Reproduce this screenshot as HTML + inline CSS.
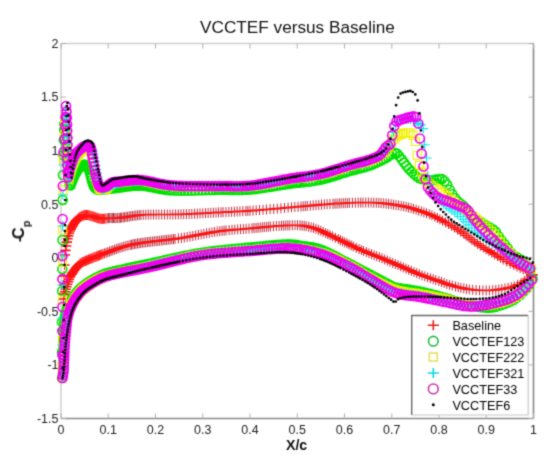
<!DOCTYPE html>
<html><head><meta charset="utf-8"><style>
html,body{margin:0;padding:0;background:#fff;}
body{width:550px;height:466px;overflow:hidden;position:relative;font-family:"Liberation Sans",Arial,sans-serif;}
svg{position:absolute;left:0;top:0;}
svg text{font-family:"Liberation Sans",Arial,sans-serif;}
</style></head><body>
<svg width="550" height="466" viewBox="0 0 550 466">
<defs><filter id="bl" color-interpolation-filters="sRGB" x="0" y="0" width="550" height="466" filterUnits="userSpaceOnUse"><feConvolveMatrix order="3" kernelMatrix="0.0277 0.1110 0.0277 0.1110 0.4452 0.1110 0.0277 0.1110 0.0277" divisor="1" edgeMode="duplicate" preserveAlpha="false"/></filter></defs>
<rect x="0" y="0" width="550" height="466" fill="#fff"/>
<g filter="url(#bl)">
<text x="297.5" y="32.6" font-size="17.2" text-anchor="middle" fill="#111">VCCTEF versus Baseline</text>
<path d="M61.0 43.5H533.5" stroke="#cfcfcf" stroke-width="1.5"/>
<path d="M61.0 43.5V418.5" stroke="#cfcfcf" stroke-width="1.5"/>
<path d="M61.0 418.5H533.5" stroke="#8a8a8a" stroke-width="1.6"/>
<path d="M533.5 43.5V418.5" stroke="#8a8a8a" stroke-width="1.6"/>
<path d="M61.0 418.5v-5M61.0 43.5v5M108.2 418.5v-5M108.2 43.5v5M155.5 418.5v-5M155.5 43.5v5M202.8 418.5v-5M202.8 43.5v5M250.0 418.5v-5M250.0 43.5v5M297.2 418.5v-5M297.2 43.5v5M344.5 418.5v-5M344.5 43.5v5M391.8 418.5v-5M391.8 43.5v5M439.0 418.5v-5M439.0 43.5v5M486.2 418.5v-5M486.2 43.5v5M533.5 418.5v-5M533.5 43.5v5M61.0 43.5h5M533.5 43.5h-5M61.0 97.1h5M533.5 97.1h-5M61.0 150.6h5M533.5 150.6h-5M61.0 204.2h5M533.5 204.2h-5M61.0 257.8h5M533.5 257.8h-5M61.0 311.4h5M533.5 311.4h-5M61.0 364.9h5M533.5 364.9h-5M61.0 418.5h5M533.5 418.5h-5" stroke="#b0b0b0" stroke-width="1"/>
<g font-size="12.5" fill="#222"><text x="61.0" y="434" text-anchor="middle">0</text><text x="108.2" y="434" text-anchor="middle">0.1</text><text x="155.5" y="434" text-anchor="middle">0.2</text><text x="202.8" y="434" text-anchor="middle">0.3</text><text x="250.0" y="434" text-anchor="middle">0.4</text><text x="297.2" y="434" text-anchor="middle">0.5</text><text x="344.5" y="434" text-anchor="middle">0.6</text><text x="391.8" y="434" text-anchor="middle">0.7</text><text x="439.0" y="434" text-anchor="middle">0.8</text><text x="486.2" y="434" text-anchor="middle">0.9</text><text x="533.5" y="434" text-anchor="middle">1</text><text x="58.5" y="47.8" text-anchor="end">2</text><text x="58.5" y="101.4" text-anchor="end">1.5</text><text x="58.5" y="154.9" text-anchor="end">1</text><text x="58.5" y="208.5" text-anchor="end">0.5</text><text x="58.5" y="262.1" text-anchor="end">0</text><text x="58.5" y="315.7" text-anchor="end">-0.5</text><text x="58.5" y="369.2" text-anchor="end">-1</text><text x="58.5" y="422.8" text-anchor="end">-1.5</text></g>
<text x="296.6" y="449.6" font-size="14.2" font-weight="bold" text-anchor="middle" fill="#111">X/c</text>
<g transform="translate(23 239.6) rotate(-90)" font-weight="bold" fill="#111"><text x="-2.4" y="1" font-size="15">-</text><text x="0.5" y="1.1" font-size="16.2">C</text><text x="12.5" y="7.2" font-size="10.5">p</text></g>
<g>
<path d="M62.3 325v10M63.6 294v10M63.6 289v10M63.8 280v10M64 271v10M64.6 260v10M65 250v10M65.6 245.4v10M66.3 241v10M67 237.1v10M67.7 233.8v10M68.4 230.9v10M69.2 228.2v10M70 226v10M70.8 224.1v10M71.7 222.5v10M72.5 221v10M73.3 219.6v10M74.2 218.1v10M75.1 216.9v10M75.9 215.9v10M76.7 214.9v10M77.7 214v10M78.5 213.2v10M79.4 212.5v10M80.3 211.9v10M81.2 211.4v10M82 211v10M82.9 210.7v10M83.7 210.4v10M84.6 210.2v10M85.6 210v10M86.5 210v10M87.4 210v10M88.2 210.2v10M89.1 210.4v10M90 210.6v10M90.9 210.9v10M91.9 211.2v10M92.8 211.4v10M93.7 211.7v10M94.7 212v10M95.7 212.4v10M96.7 212.8v10M97.7 213.1v10M98.7 213.4v10M99.7 213.7v10M100.8 213.8v10M101.7 213.9v10M102.6 213.8v10M103.6 213.8v10M104.6 213.7v10M105.9 213.5v10M63.5 294v10M64.2 289.8v10M65.1 286.8v10M65.8 284.3v10M66.6 281.8v10M67.4 279.3v10M68.3 276.6v10M69.1 274.2v10M70 272v10M70.8 270.5v10M71.7 269.1v10M72.5 267.9v10M73.4 266.6v10M74.3 265.3v10M75.3 264v10M76.2 262.9v10M77 261.8v10M78 260.7v10M78.9 259.8v10M79.9 258.9v10M80.8 258.2v10M81.8 257.6v10M82.7 257.1v10M83.7 256.7v10M84.8 256.2v10M85.6 255.9v10M86.4 255.5v10M87.3 255.1v10M88.5 254.6v10M89.3 254.2v10M90.3 253.9v10M91.2 253.5v10M92.2 253.1v10M93.1 252.7v10M94.2 252.3v10M95.2 251.9v10M96.3 251.5v10M97.3 251.1v10M98.4 250.7v10M99.5 250.3v10M100.7 249.8v10M101.8 249.4v10M103 249v10M104.6 248.4v10" fill="none" stroke="#ff1818" stroke-width="1"/>
<path d="M107.2 213.3v10M108.4 213.1v10M109.7 213v10M111.1 213v10M112.3 213v10M113.5 213v10M114.8 213.1v10M116.1 213.1v10M117.7 213v10M119.2 212.9v10M120.4 212.8v10M121.7 212.6v10M123.1 212.4v10M124.6 212.2v10M126 212v10M127.6 211.7v10M129.2 211.5v10M130.8 211.2v10M132.4 211v10M134.1 210.7v10M135.8 210.5v10M137.5 210.3v10M139.3 210.1v10M141 210v10M143.3 209.8v10M145.8 209.7v10M148.3 209.6v10M150.9 209.6v10M153.5 209.5v10M156.2 209.5v10M158.9 209.5v10M161.7 209.5v10M164.5 209.5v10M167.3 209.5v10M170 209.5v10M172.8 209.5v10M175.6 209.4v10M178.3 209.4v10M181 209.3v10M183.7 209.2v10M186.4 209.1v10M189.1 209v10M191.8 208.9v10M194.6 208.7v10M197.3 208.6v10M200 208.4v10M202.8 208.3v10M205.5 208.1v10M208.1 208v10M210.8 207.8v10M213.4 207.7v10M216 207.6v10M218.5 207.4v10M221 207.3v10M223.1 207.2v10M226 207.1v10M228.9 206.9v10M231.6 206.8v10M234.4 206.7v10M237.1 206.5v10M239.9 206.4v10M242.8 206.2v10M245.8 206.1v10M247.8 205.9v10M250 205.8v10M253 205.6v10M256.2 205.3v10M259.5 205.1v10M263 204.8v10M266.5 204.5v10M270.1 204.2v10M273.7 203.9v10M277.3 203.6v10M280.9 203.3v10M284.5 202.9v10M288.1 202.6v10M291.5 202.3v10M294.8 202v10M298 201.8v10M301 201.5v10M303.2 201.3v10M305.3 201.1v10M307.3 200.9v10M310.3 200.7v10M313.2 200.4v10M316 200.1v10M318.8 199.9v10M321.5 199.6v10M324.3 199.4v10M327.1 199.2v10M330 199v10M333 198.8v10M335 198.7v10M337.1 198.6v10M339.2 198.4v10M341.2 198.3v10M343.3 198.2v10M345.3 198.1v10M347.4 198v10M349.4 197.9v10M352.4 197.8v10M355.3 197.7v10M358.2 197.6v10M360.7 197.6v10M362.9 197.6v10M365.7 197.6v10M368.4 197.6v10M371.1 197.6v10M373.7 197.7v10M376.3 197.8v10M378.8 197.9v10M381.1 198.1v10M383.7 198.3v10M386.2 198.6v10M388.6 198.9v10M391.1 199.2v10M393.5 199.6v10M396 200v10M398.6 200.4v10M401.2 200.9v10M403.7 201.4v10M406.2 201.9v10M408.6 202.5v10M411.1 203.1v10M413.5 203.8v10M416.1 204.7v10M418.7 205.6v10M421.3 206.4v10M423.9 207.3v10M426.5 208.2v10M429.3 209.2v10M431.9 210.3v10M434.8 211.7v10M437.4 213v10M439.9 214.3v10M442.5 215.6v10M445.5 217.3v10M448.5 219v10M451.5 220.7v10M454.5 222.5v10M457.5 224.4v10M460.6 226.4v10M463.4 228.4v10M466.2 230.5v10M469 232.6v10M471.8 234.8v10M474.7 236.9v10M477.6 238.9v10M480.4 240.7v10M483.2 242.5v10M486 244.2v10M488.9 245.9v10M491.7 247.6v10M494.6 249.3v10M497.5 251.1v10M500.4 252.8v10M503.3 254.5v10M506.8 256.5v10M510.3 258.4v10M513.9 260.2v10M517 261.6v10M520.2 263v10M523.3 264.4v10M526.5 265.9v10M529.7 267.6v10M532.8 269.9v10M106.1 247.8v10M107.8 247.2v10M109.4 246.6v10M111.1 246v10M112.8 245.3v10M114.6 244.7v10M116.4 244.1v10M118.2 243.4v10M120 242.8v10M122 242.2v10M123.9 241.6v10M125.9 241v10M127.9 240.5v10M130 240v10M131.4 239.7v10M132.9 239.4v10M134.4 239.1v10M135.9 238.8v10M137.5 238.5v10M139.1 238.3v10M140.7 238v10M142.3 237.8v10M144 237.6v10M145.7 237.3v10M147.4 237.1v10M149.1 236.9v10M150.8 236.7v10M152.6 236.5v10M154.3 236.3v10M156.1 236.1v10M157.8 235.9v10M159.6 235.7v10M161.4 235.5v10M163.1 235.3v10M164.9 235.1v10M166.6 234.9v10M168.3 234.7v10M170.1 234.5v10M171.8 234.3v10M173.5 234.1v10M175.1 233.9v10M178.4 233.4v10M181.4 233v10M184.3 232.5v10M187.2 232v10M190 231.5v10M192.8 231v10M195.6 230.4v10M198.4 229.9v10M201.2 229.4v10M203.9 228.9v10M206.7 228.3v10M209.3 227.9v10M212 227.4v10M214.6 226.9v10M217.2 226.5v10M219.7 226.2v10M222 225.9v10M224.1 225.6v10M226.1 225.4v10M229.1 225.1v10M232 224.9v10M234.8 224.6v10M237.7 224.4v10M240.5 224.2v10M243.3 224v10M246.1 223.8v10M249 223.6v10M252 223.3v10M254 223.1v10M256.1 222.9v10M258.1 222.7v10M260.2 222.5v10M262.3 222.3v10M264.3 222.1v10M266.4 221.9v10M268.4 221.7v10M270.4 221.5v10M273.4 221.3v10M276.3 221v10M279.1 220.9v10M281.5 220.7v10M283.6 220.6v10M285.7 220.5v10M287.8 220.4v10M289.8 220.3v10M292.4 220.2v10M295 220.2v10M297.5 220.2v10M300 220.4v10M302.1 220.6v10M304.2 220.9v10M306.2 221.2v10M308.7 221.8v10M311.1 222.4v10M313.5 223v10M316 223.8v10M318.4 224.8v10M320.8 225.8v10M323.2 226.9v10M325.7 228.1v10M327.8 229.1v10M330 230.2v10M332.6 231.4v10M335.4 232.8v10M338.4 234.2v10M340.5 235.2v10M342.6 236.3v10M344.7 237.3v10M346.9 238.3v10M349 239.4v10M351.1 240.4v10M353.2 241.4v10M356.2 242.8v10M359.1 244.1v10M361.4 245.1v10M363.5 246v10M366.3 247.1v10M368.9 248.2v10M371.5 249.2v10M374.1 250.2v10M376.7 251.2v10M379.3 252.2v10M382 253.3v10M384.7 254.5v10M387.3 255.6v10M390 256.7v10M392.7 257.9v10M395.3 259v10M398 260.1v10M400.7 261.3v10M403.3 262.4v10M406 263.6v10M408.7 264.8v10M411.3 265.9v10M414 267.1v10M416.7 268.2v10M419.3 269.2v10M422 270.3v10M424.8 271.3v10M427.6 272.3v10M430.4 273.2v10M433.2 274.2v10M435.8 275.1v10M438.9 276.1v10M441.5 277v10M444.1 278v10M446.8 279v10M449.6 279.9v10M452.3 280.6v10M455.5 281.5v10M458.2 282.2v10M460.9 282.8v10M463.8 283.4v10M466.6 284v10M469.3 284.4v10M472.7 284.8v10M476.1 285.1v10M479.5 285.3v10M482.9 285.5v10M486.2 285.5v10M489.4 285.4v10M492.7 285.2v10M495.8 284.9v10M498.8 284.5v10M501.8 284.1v10M505 283.5v10M508.1 282.9v10M511.3 282.2v10M514.3 281.3v10M517.5 279.9v10M521.2 277.8v10M524.4 275.9v10M527.5 274.1v10M530.7 272.1v10" fill="none" stroke="#b83040" stroke-width="1"/>
<path d="M57.3 330h10M58.6 299h10M58.6 294h10M58.8 285h10M59 276h10M59.6 265h10M60 255h10M60.6 250.4h10M61.3 246h10M62 242.1h10M62.7 238.8h10M63.4 235.9h10M64.2 233.2h10M65 231h10M65.8 229.1h10M66.7 227.5h10M67.5 226h10M68.3 224.6h10M69.2 223.1h10M70.1 221.9h10M70.9 220.9h10M71.7 219.9h10M72.7 219h10M73.5 218.2h10M74.4 217.5h10M75.3 216.9h10M76.2 216.4h10M77 216h10M77.9 215.7h10M78.7 215.4h10M79.6 215.2h10M80.6 215h10M81.5 215h10M82.4 215h10M83.2 215.2h10M84.1 215.4h10M85 215.6h10M85.9 215.9h10M86.9 216.2h10M87.8 216.4h10M88.7 216.7h10M89.7 217h10M90.7 217.4h10M91.7 217.8h10M92.7 218.1h10M93.7 218.4h10M94.7 218.7h10M95.8 218.8h10M96.7 218.9h10M97.6 218.8h10M98.6 218.8h10M99.6 218.7h10M100.9 218.5h10M102.2 218.3h10M103.4 218.1h10M104.7 218h10M106.1 218h10M107.3 218h10M108.5 218h10M109.8 218.1h10M111.1 218.1h10M112.7 218h10M114.2 217.9h10M115.4 217.8h10M116.7 217.6h10M118.1 217.4h10M119.6 217.2h10M121 217h10M122.6 216.7h10M124.2 216.5h10M125.8 216.2h10M127.4 216h10M129.1 215.7h10M130.8 215.5h10M132.5 215.3h10M134.3 215.1h10M136 215h10M138.3 214.8h10M140.8 214.7h10M143.3 214.6h10M145.9 214.6h10M148.5 214.5h10M151.2 214.5h10M153.9 214.5h10M156.7 214.5h10M159.5 214.5h10M162.3 214.5h10M165 214.5h10M167.8 214.5h10M170.6 214.4h10M173.3 214.4h10M176 214.3h10M178.7 214.2h10M181.4 214.1h10M184.1 214h10M186.8 213.9h10M189.6 213.7h10M192.3 213.6h10M195 213.4h10M197.8 213.3h10M200.5 213.1h10M203.1 213h10M205.8 212.8h10M208.4 212.7h10M211 212.6h10M213.5 212.4h10M216 212.3h10M218.1 212.2h10M221 212.1h10M223.9 211.9h10M226.6 211.8h10M229.4 211.7h10M232.1 211.5h10M234.9 211.4h10M237.8 211.2h10M240.8 211.1h10M242.8 210.9h10M245 210.8h10M248 210.6h10M251.2 210.3h10M254.5 210.1h10M258 209.8h10M261.5 209.5h10M265.1 209.2h10M268.7 208.9h10M272.3 208.6h10M275.9 208.3h10M279.5 207.9h10M283.1 207.6h10M286.5 207.3h10M289.8 207h10M293 206.8h10M296 206.5h10M298.2 206.3h10M300.3 206.1h10M302.3 205.9h10M305.3 205.7h10M308.2 205.4h10M311 205.1h10M313.8 204.9h10M316.5 204.6h10M319.3 204.4h10M322.1 204.2h10M325 204h10M328 203.8h10M330 203.7h10M332.1 203.6h10M334.2 203.4h10M336.2 203.3h10M338.3 203.2h10M340.3 203.1h10M342.4 203h10M344.4 202.9h10M347.4 202.8h10M350.3 202.7h10M353.2 202.6h10M355.7 202.6h10M357.9 202.6h10M360.7 202.6h10M363.4 202.6h10M366.1 202.6h10M368.7 202.7h10M371.3 202.8h10M373.8 202.9h10M376.1 203.1h10M378.7 203.3h10M381.2 203.6h10M383.6 203.9h10M386.1 204.2h10M388.5 204.6h10M391 205h10M393.6 205.4h10M396.2 205.9h10M398.7 206.4h10M401.2 206.9h10M403.6 207.5h10M406.1 208.1h10M408.5 208.8h10M411.1 209.7h10M413.7 210.6h10M416.3 211.4h10M418.9 212.3h10M421.5 213.2h10M424.3 214.2h10M426.9 215.3h10M429.8 216.7h10M432.4 218h10M434.9 219.3h10M437.5 220.6h10M440.5 222.3h10M443.5 224h10M446.5 225.7h10M449.5 227.5h10M452.5 229.4h10M455.6 231.4h10M458.4 233.4h10M461.2 235.5h10M464 237.6h10M466.8 239.8h10M469.7 241.9h10M472.6 243.9h10M475.4 245.7h10M478.2 247.5h10M481 249.2h10M483.9 250.9h10M486.7 252.6h10M489.6 254.3h10M492.5 256.1h10M495.4 257.8h10M498.3 259.5h10M501.8 261.5h10M505.3 263.4h10M508.9 265.2h10M512 266.6h10M515.2 268h10M518.3 269.4h10M521.5 270.9h10M524.7 272.6h10M527.8 274.9h10M58.5 299h10M59.2 294.8h10M60.1 291.8h10M60.8 289.3h10M61.6 286.8h10M62.4 284.3h10M63.3 281.6h10M64.1 279.2h10M65 277h10M65.8 275.5h10M66.7 274.1h10M67.5 272.9h10M68.4 271.6h10M69.3 270.3h10M70.3 269h10M71.2 267.9h10M72 266.8h10M73 265.7h10M73.9 264.8h10M74.9 263.9h10M75.8 263.2h10M76.8 262.6h10M77.7 262.1h10M78.7 261.7h10M79.8 261.2h10M80.6 260.9h10M81.4 260.5h10M82.3 260.1h10M83.5 259.6h10M84.3 259.2h10M85.3 258.9h10M86.2 258.5h10M87.2 258.1h10M88.1 257.7h10M89.2 257.3h10M90.2 256.9h10M91.3 256.5h10M92.3 256.1h10M93.4 255.7h10M94.5 255.3h10M95.7 254.8h10M96.8 254.4h10M98 254h10M99.6 253.4h10M101.1 252.8h10M102.8 252.2h10M104.4 251.6h10M106.1 251h10M107.8 250.3h10M109.6 249.7h10M111.4 249.1h10M113.2 248.4h10M115 247.8h10M117 247.2h10M118.9 246.6h10M120.9 246h10M122.9 245.5h10M125 245h10M126.4 244.7h10M127.9 244.4h10M129.4 244.1h10M130.9 243.8h10M132.5 243.5h10M134.1 243.3h10M135.7 243h10M137.3 242.8h10M139 242.6h10M140.7 242.3h10M142.4 242.1h10M144.1 241.9h10M145.8 241.7h10M147.6 241.5h10M149.3 241.3h10M151.1 241.1h10M152.8 240.9h10M154.6 240.7h10M156.4 240.5h10M158.1 240.3h10M159.9 240.1h10M161.6 239.9h10M163.3 239.7h10M165.1 239.5h10M166.8 239.3h10M168.5 239.1h10M170.1 238.9h10M173.4 238.4h10M176.4 238h10M179.3 237.5h10M182.2 237h10M185 236.5h10M187.8 236h10M190.6 235.4h10M193.4 234.9h10M196.2 234.4h10M198.9 233.9h10M201.7 233.3h10M204.3 232.9h10M207 232.4h10M209.6 231.9h10M212.2 231.5h10M214.7 231.2h10M217 230.9h10M219.1 230.6h10M221.1 230.4h10M224.1 230.1h10M227 229.9h10M229.8 229.6h10M232.7 229.4h10M235.5 229.2h10M238.3 229h10M241.1 228.8h10M244 228.6h10M247 228.3h10M249 228.1h10M251.1 227.9h10M253.1 227.7h10M255.2 227.5h10M257.3 227.3h10M259.3 227.1h10M261.4 226.9h10M263.4 226.7h10M265.4 226.5h10M268.4 226.3h10M271.3 226h10M274.1 225.9h10M276.5 225.7h10M278.6 225.6h10M280.7 225.5h10M282.8 225.4h10M284.8 225.3h10M287.4 225.2h10M290 225.2h10M292.5 225.2h10M295 225.4h10M297.1 225.6h10M299.2 225.9h10M301.2 226.2h10M303.7 226.8h10M306.1 227.4h10M308.5 228h10M311 228.8h10M313.4 229.8h10M315.8 230.8h10M318.2 231.9h10M320.7 233.1h10M322.8 234.1h10M325 235.2h10M327.6 236.4h10M330.4 237.8h10M333.4 239.2h10M335.5 240.2h10M337.6 241.3h10M339.7 242.3h10M341.9 243.3h10M344 244.4h10M346.1 245.4h10M348.2 246.4h10M351.2 247.8h10M354.1 249.1h10M356.4 250.1h10M358.5 251h10M361.3 252.1h10M363.9 253.2h10M366.5 254.2h10M369.1 255.2h10M371.7 256.2h10M374.3 257.2h10M377 258.3h10M379.7 259.5h10M382.3 260.6h10M385 261.7h10M387.7 262.9h10M390.3 264h10M393 265.1h10M395.7 266.3h10M398.3 267.4h10M401 268.6h10M403.7 269.8h10M406.3 270.9h10M409 272.1h10M411.7 273.2h10M414.3 274.2h10M417 275.3h10M419.8 276.3h10M422.6 277.3h10M425.4 278.2h10M428.2 279.2h10M430.8 280.1h10M433.9 281.1h10M436.5 282h10M439.1 283h10M441.8 284h10M444.6 284.9h10M447.3 285.6h10M450.5 286.5h10M453.2 287.2h10M455.9 287.8h10M458.8 288.4h10M461.6 289h10M464.3 289.4h10M467.7 289.8h10M471.1 290.1h10M474.5 290.3h10M477.9 290.5h10M481.2 290.5h10M484.4 290.4h10M487.7 290.2h10M490.8 289.9h10M493.8 289.5h10M496.8 289.1h10M500 288.5h10M503.1 287.9h10M506.3 287.2h10M509.3 286.3h10M512.5 284.9h10M516.2 282.8h10M519.4 280.9h10M522.5 279.1h10M525.7 277.1h10" fill="none" stroke="#ff1010" stroke-width="1.6"/>
<path d="M57.5 378a4.5 4.5 0 1 0 9 0a4.5 4.5 0 1 0 -9 0M57.5 352a4.5 4.5 0 1 0 9 0a4.5 4.5 0 1 0 -9 0M57.5 322a4.5 4.5 0 1 0 9 0a4.5 4.5 0 1 0 -9 0M57.7 291a4.5 4.5 0 1 0 9 0a4.5 4.5 0 1 0 -9 0M57.8 269a4.5 4.5 0 1 0 9 0a4.5 4.5 0 1 0 -9 0M58 240a4.5 4.5 0 1 0 9 0a4.5 4.5 0 1 0 -9 0M58.2 200a4.5 4.5 0 1 0 9 0a4.5 4.5 0 1 0 -9 0M58.5 175a4.5 4.5 0 1 0 9 0a4.5 4.5 0 1 0 -9 0M58.9 155a4.5 4.5 0 1 0 9 0a4.5 4.5 0 1 0 -9 0M59.3 140a4.5 4.5 0 1 0 9 0a4.5 4.5 0 1 0 -9 0M59.7 130a4.5 4.5 0 1 0 9 0a4.5 4.5 0 1 0 -9 0M59.9 124a4.5 4.5 0 1 0 9 0a4.5 4.5 0 1 0 -9 0M60.5 129.3a4.5 4.5 0 1 0 9 0a4.5 4.5 0 1 0 -9 0M60.9 135.2a4.5 4.5 0 1 0 9 0a4.5 4.5 0 1 0 -9 0M61.3 141.4a4.5 4.5 0 1 0 9 0a4.5 4.5 0 1 0 -9 0M61.7 147.5a4.5 4.5 0 1 0 9 0a4.5 4.5 0 1 0 -9 0M62 153.6a4.5 4.5 0 1 0 9 0a4.5 4.5 0 1 0 -9 0M62.5 159.5a4.5 4.5 0 1 0 9 0a4.5 4.5 0 1 0 -9 0M63 165a4.5 4.5 0 1 0 9 0a4.5 4.5 0 1 0 -9 0M63.5 170.2a4.5 4.5 0 1 0 9 0a4.5 4.5 0 1 0 -9 0M64 175.4a4.5 4.5 0 1 0 9 0a4.5 4.5 0 1 0 -9 0M64.6 180.4a4.5 4.5 0 1 0 9 0a4.5 4.5 0 1 0 -9 0M65.1 185.2a4.5 4.5 0 1 0 9 0a4.5 4.5 0 1 0 -9 0M66 185.5a4.5 4.5 0 1 0 9 0a4.5 4.5 0 1 0 -9 0M66.8 183.6a4.5 4.5 0 1 0 9 0a4.5 4.5 0 1 0 -9 0M67.5 181.6a4.5 4.5 0 1 0 9 0a4.5 4.5 0 1 0 -9 0M68.3 179.4a4.5 4.5 0 1 0 9 0a4.5 4.5 0 1 0 -9 0M69.2 177.5a4.5 4.5 0 1 0 9 0a4.5 4.5 0 1 0 -9 0M70 175.8a4.5 4.5 0 1 0 9 0a4.5 4.5 0 1 0 -9 0M70.8 174.3a4.5 4.5 0 1 0 9 0a4.5 4.5 0 1 0 -9 0M71.7 172.8a4.5 4.5 0 1 0 9 0a4.5 4.5 0 1 0 -9 0M72.5 171.2a4.5 4.5 0 1 0 9 0a4.5 4.5 0 1 0 -9 0M73.4 169.9a4.5 4.5 0 1 0 9 0a4.5 4.5 0 1 0 -9 0M74.2 168.8a4.5 4.5 0 1 0 9 0a4.5 4.5 0 1 0 -9 0M75.1 167.8a4.5 4.5 0 1 0 9 0a4.5 4.5 0 1 0 -9 0M75.9 166.9a4.5 4.5 0 1 0 9 0a4.5 4.5 0 1 0 -9 0M76.7 166.2a4.5 4.5 0 1 0 9 0a4.5 4.5 0 1 0 -9 0M77.5 165.7a4.5 4.5 0 1 0 9 0a4.5 4.5 0 1 0 -9 0M78.3 165.1a4.5 4.5 0 1 0 9 0a4.5 4.5 0 1 0 -9 0M79.1 164.7a4.5 4.5 0 1 0 9 0a4.5 4.5 0 1 0 -9 0M80 164.6a4.5 4.5 0 1 0 9 0a4.5 4.5 0 1 0 -9 0M80.9 164.9a4.5 4.5 0 1 0 9 0a4.5 4.5 0 1 0 -9 0M81.7 165.6a4.5 4.5 0 1 0 9 0a4.5 4.5 0 1 0 -9 0M82.6 166.6a4.5 4.5 0 1 0 9 0a4.5 4.5 0 1 0 -9 0M83.4 168.1a4.5 4.5 0 1 0 9 0a4.5 4.5 0 1 0 -9 0M84.3 170a4.5 4.5 0 1 0 9 0a4.5 4.5 0 1 0 -9 0M85.1 172.2a4.5 4.5 0 1 0 9 0a4.5 4.5 0 1 0 -9 0M85.9 174.7a4.5 4.5 0 1 0 9 0a4.5 4.5 0 1 0 -9 0M86.6 177.6a4.5 4.5 0 1 0 9 0a4.5 4.5 0 1 0 -9 0M87.4 180.4a4.5 4.5 0 1 0 9 0a4.5 4.5 0 1 0 -9 0M88.1 183.1a4.5 4.5 0 1 0 9 0a4.5 4.5 0 1 0 -9 0M88.9 185.3a4.5 4.5 0 1 0 9 0a4.5 4.5 0 1 0 -9 0M89.7 186.9a4.5 4.5 0 1 0 9 0a4.5 4.5 0 1 0 -9 0M90.5 188a4.5 4.5 0 1 0 9 0a4.5 4.5 0 1 0 -9 0M91.4 188.8a4.5 4.5 0 1 0 9 0a4.5 4.5 0 1 0 -9 0M92.2 189.2a4.5 4.5 0 1 0 9 0a4.5 4.5 0 1 0 -9 0M93.1 189.4a4.5 4.5 0 1 0 9 0a4.5 4.5 0 1 0 -9 0M94 189.6a4.5 4.5 0 1 0 9 0a4.5 4.5 0 1 0 -9 0M94.9 189.6a4.5 4.5 0 1 0 9 0a4.5 4.5 0 1 0 -9 0M95.9 189.7a4.5 4.5 0 1 0 9 0a4.5 4.5 0 1 0 -9 0M96.7 189.7a4.5 4.5 0 1 0 9 0a4.5 4.5 0 1 0 -9 0M97.6 189.6a4.5 4.5 0 1 0 9 0a4.5 4.5 0 1 0 -9 0M98.4 189.6a4.5 4.5 0 1 0 9 0a4.5 4.5 0 1 0 -9 0M99.3 189.5a4.5 4.5 0 1 0 9 0a4.5 4.5 0 1 0 -9 0M100.3 189.4a4.5 4.5 0 1 0 9 0a4.5 4.5 0 1 0 -9 0M101.6 189.3a4.5 4.5 0 1 0 9 0a4.5 4.5 0 1 0 -9 0M102.9 189.1a4.5 4.5 0 1 0 9 0a4.5 4.5 0 1 0 -9 0M104.2 189a4.5 4.5 0 1 0 9 0a4.5 4.5 0 1 0 -9 0M105.6 188.8a4.5 4.5 0 1 0 9 0a4.5 4.5 0 1 0 -9 0M107 188.6a4.5 4.5 0 1 0 9 0a4.5 4.5 0 1 0 -9 0M108.3 188.4a4.5 4.5 0 1 0 9 0a4.5 4.5 0 1 0 -9 0M109.5 188.2a4.5 4.5 0 1 0 9 0a4.5 4.5 0 1 0 -9 0M110.8 188.1a4.5 4.5 0 1 0 9 0a4.5 4.5 0 1 0 -9 0M112 187.9a4.5 4.5 0 1 0 9 0a4.5 4.5 0 1 0 -9 0M113.4 187.7a4.5 4.5 0 1 0 9 0a4.5 4.5 0 1 0 -9 0M114.9 187.6a4.5 4.5 0 1 0 9 0a4.5 4.5 0 1 0 -9 0M116.6 187.4a4.5 4.5 0 1 0 9 0a4.5 4.5 0 1 0 -9 0M118.3 187.1a4.5 4.5 0 1 0 9 0a4.5 4.5 0 1 0 -9 0M119.5 187a4.5 4.5 0 1 0 9 0a4.5 4.5 0 1 0 -9 0M120.7 186.8a4.5 4.5 0 1 0 9 0a4.5 4.5 0 1 0 -9 0M122 186.6a4.5 4.5 0 1 0 9 0a4.5 4.5 0 1 0 -9 0M123.3 186.4a4.5 4.5 0 1 0 9 0a4.5 4.5 0 1 0 -9 0M124.7 186.3a4.5 4.5 0 1 0 9 0a4.5 4.5 0 1 0 -9 0M126.1 186.1a4.5 4.5 0 1 0 9 0a4.5 4.5 0 1 0 -9 0M127.5 185.9a4.5 4.5 0 1 0 9 0a4.5 4.5 0 1 0 -9 0M128.9 185.8a4.5 4.5 0 1 0 9 0a4.5 4.5 0 1 0 -9 0M130.4 185.7a4.5 4.5 0 1 0 9 0a4.5 4.5 0 1 0 -9 0M131.8 185.6a4.5 4.5 0 1 0 9 0a4.5 4.5 0 1 0 -9 0M133.3 185.6a4.5 4.5 0 1 0 9 0a4.5 4.5 0 1 0 -9 0M134.8 185.6a4.5 4.5 0 1 0 9 0a4.5 4.5 0 1 0 -9 0M136.4 185.6a4.5 4.5 0 1 0 9 0a4.5 4.5 0 1 0 -9 0M138.2 185.8a4.5 4.5 0 1 0 9 0a4.5 4.5 0 1 0 -9 0M140.1 186a4.5 4.5 0 1 0 9 0a4.5 4.5 0 1 0 -9 0M141.9 186.2a4.5 4.5 0 1 0 9 0a4.5 4.5 0 1 0 -9 0M143.8 186.6a4.5 4.5 0 1 0 9 0a4.5 4.5 0 1 0 -9 0M145.7 186.9a4.5 4.5 0 1 0 9 0a4.5 4.5 0 1 0 -9 0M147.7 187.3a4.5 4.5 0 1 0 9 0a4.5 4.5 0 1 0 -9 0M149.6 187.7a4.5 4.5 0 1 0 9 0a4.5 4.5 0 1 0 -9 0M151.6 188.1a4.5 4.5 0 1 0 9 0a4.5 4.5 0 1 0 -9 0M153.7 188.5a4.5 4.5 0 1 0 9 0a4.5 4.5 0 1 0 -9 0M155.7 188.9a4.5 4.5 0 1 0 9 0a4.5 4.5 0 1 0 -9 0M157.8 189.3a4.5 4.5 0 1 0 9 0a4.5 4.5 0 1 0 -9 0M160 189.6a4.5 4.5 0 1 0 9 0a4.5 4.5 0 1 0 -9 0M162.2 189.9a4.5 4.5 0 1 0 9 0a4.5 4.5 0 1 0 -9 0M164.4 190.1a4.5 4.5 0 1 0 9 0a4.5 4.5 0 1 0 -9 0M167 190.3a4.5 4.5 0 1 0 9 0a4.5 4.5 0 1 0 -9 0M170 190.4a4.5 4.5 0 1 0 9 0a4.5 4.5 0 1 0 -9 0M173.2 190.5a4.5 4.5 0 1 0 9 0a4.5 4.5 0 1 0 -9 0M176.5 190.6a4.5 4.5 0 1 0 9 0a4.5 4.5 0 1 0 -9 0M180 190.6a4.5 4.5 0 1 0 9 0a4.5 4.5 0 1 0 -9 0M183.4 190.6a4.5 4.5 0 1 0 9 0a4.5 4.5 0 1 0 -9 0M186.9 190.5a4.5 4.5 0 1 0 9 0a4.5 4.5 0 1 0 -9 0M190.5 190.4a4.5 4.5 0 1 0 9 0a4.5 4.5 0 1 0 -9 0M194 190.3a4.5 4.5 0 1 0 9 0a4.5 4.5 0 1 0 -9 0M197.6 190.2a4.5 4.5 0 1 0 9 0a4.5 4.5 0 1 0 -9 0M201 190.1a4.5 4.5 0 1 0 9 0a4.5 4.5 0 1 0 -9 0M204.4 190a4.5 4.5 0 1 0 9 0a4.5 4.5 0 1 0 -9 0M207.8 189.9a4.5 4.5 0 1 0 9 0a4.5 4.5 0 1 0 -9 0M211 189.9a4.5 4.5 0 1 0 9 0a4.5 4.5 0 1 0 -9 0M214 189.8a4.5 4.5 0 1 0 9 0a4.5 4.5 0 1 0 -9 0M216.6 189.8a4.5 4.5 0 1 0 9 0a4.5 4.5 0 1 0 -9 0M218.8 189.8a4.5 4.5 0 1 0 9 0a4.5 4.5 0 1 0 -9 0M220.9 189.8a4.5 4.5 0 1 0 9 0a4.5 4.5 0 1 0 -9 0M222.9 189.8a4.5 4.5 0 1 0 9 0a4.5 4.5 0 1 0 -9 0M225.9 189.9a4.5 4.5 0 1 0 9 0a4.5 4.5 0 1 0 -9 0M228.8 189.9a4.5 4.5 0 1 0 9 0a4.5 4.5 0 1 0 -9 0M231.7 189.9a4.5 4.5 0 1 0 9 0a4.5 4.5 0 1 0 -9 0M234.5 189.9a4.5 4.5 0 1 0 9 0a4.5 4.5 0 1 0 -9 0M237.4 189.9a4.5 4.5 0 1 0 9 0a4.5 4.5 0 1 0 -9 0M240.3 189.8a4.5 4.5 0 1 0 9 0a4.5 4.5 0 1 0 -9 0M242.4 189.7a4.5 4.5 0 1 0 9 0a4.5 4.5 0 1 0 -9 0M244.4 189.6a4.5 4.5 0 1 0 9 0a4.5 4.5 0 1 0 -9 0M246.7 189.4a4.5 4.5 0 1 0 9 0a4.5 4.5 0 1 0 -9 0M249.3 189.2a4.5 4.5 0 1 0 9 0a4.5 4.5 0 1 0 -9 0M251.9 188.9a4.5 4.5 0 1 0 9 0a4.5 4.5 0 1 0 -9 0M254.6 188.5a4.5 4.5 0 1 0 9 0a4.5 4.5 0 1 0 -9 0M257.3 188.1a4.5 4.5 0 1 0 9 0a4.5 4.5 0 1 0 -9 0M260 187.7a4.5 4.5 0 1 0 9 0a4.5 4.5 0 1 0 -9 0M262.7 187.3a4.5 4.5 0 1 0 9 0a4.5 4.5 0 1 0 -9 0M265.5 186.9a4.5 4.5 0 1 0 9 0a4.5 4.5 0 1 0 -9 0M268.3 186.4a4.5 4.5 0 1 0 9 0a4.5 4.5 0 1 0 -9 0M271 186a4.5 4.5 0 1 0 9 0a4.5 4.5 0 1 0 -9 0M273.7 185.5a4.5 4.5 0 1 0 9 0a4.5 4.5 0 1 0 -9 0M276.4 185.1a4.5 4.5 0 1 0 9 0a4.5 4.5 0 1 0 -9 0M279.1 184.7a4.5 4.5 0 1 0 9 0a4.5 4.5 0 1 0 -9 0M281.7 184.3a4.5 4.5 0 1 0 9 0a4.5 4.5 0 1 0 -9 0M284.3 183.9a4.5 4.5 0 1 0 9 0a4.5 4.5 0 1 0 -9 0M286.6 183.6a4.5 4.5 0 1 0 9 0a4.5 4.5 0 1 0 -9 0M288.7 183.3a4.5 4.5 0 1 0 9 0a4.5 4.5 0 1 0 -9 0M290.8 183a4.5 4.5 0 1 0 9 0a4.5 4.5 0 1 0 -9 0M292.8 182.8a4.5 4.5 0 1 0 9 0a4.5 4.5 0 1 0 -9 0M294.8 182.6a4.5 4.5 0 1 0 9 0a4.5 4.5 0 1 0 -9 0M296.8 182.4a4.5 4.5 0 1 0 9 0a4.5 4.5 0 1 0 -9 0M299.8 182.1a4.5 4.5 0 1 0 9 0a4.5 4.5 0 1 0 -9 0M302.8 181.8a4.5 4.5 0 1 0 9 0a4.5 4.5 0 1 0 -9 0M305.7 181.4a4.5 4.5 0 1 0 9 0a4.5 4.5 0 1 0 -9 0M308.6 181a4.5 4.5 0 1 0 9 0a4.5 4.5 0 1 0 -9 0M311.6 180.5a4.5 4.5 0 1 0 9 0a4.5 4.5 0 1 0 -9 0M314.5 180a4.5 4.5 0 1 0 9 0a4.5 4.5 0 1 0 -9 0M316.5 179.6a4.5 4.5 0 1 0 9 0a4.5 4.5 0 1 0 -9 0M318.5 179.1a4.5 4.5 0 1 0 9 0a4.5 4.5 0 1 0 -9 0M320.6 178.6a4.5 4.5 0 1 0 9 0a4.5 4.5 0 1 0 -9 0M322.7 178a4.5 4.5 0 1 0 9 0a4.5 4.5 0 1 0 -9 0M324.7 177.4a4.5 4.5 0 1 0 9 0a4.5 4.5 0 1 0 -9 0M326.8 176.8a4.5 4.5 0 1 0 9 0a4.5 4.5 0 1 0 -9 0M328.9 176.2a4.5 4.5 0 1 0 9 0a4.5 4.5 0 1 0 -9 0M330.9 175.6a4.5 4.5 0 1 0 9 0a4.5 4.5 0 1 0 -9 0M332.9 174.9a4.5 4.5 0 1 0 9 0a4.5 4.5 0 1 0 -9 0M335 174.3a4.5 4.5 0 1 0 9 0a4.5 4.5 0 1 0 -9 0M337.9 173.3a4.5 4.5 0 1 0 9 0a4.5 4.5 0 1 0 -9 0M340.9 172.4a4.5 4.5 0 1 0 9 0a4.5 4.5 0 1 0 -9 0M343.7 171.5a4.5 4.5 0 1 0 9 0a4.5 4.5 0 1 0 -9 0M346.2 170.8a4.5 4.5 0 1 0 9 0a4.5 4.5 0 1 0 -9 0M348.4 170.2a4.5 4.5 0 1 0 9 0a4.5 4.5 0 1 0 -9 0M350.5 169.7a4.5 4.5 0 1 0 9 0a4.5 4.5 0 1 0 -9 0M352.6 169.1a4.5 4.5 0 1 0 9 0a4.5 4.5 0 1 0 -9 0M355.3 168.5a4.5 4.5 0 1 0 9 0a4.5 4.5 0 1 0 -9 0M357.9 167.8a4.5 4.5 0 1 0 9 0a4.5 4.5 0 1 0 -9 0M360.5 167.1a4.5 4.5 0 1 0 9 0a4.5 4.5 0 1 0 -9 0M363 166.3a4.5 4.5 0 1 0 9 0a4.5 4.5 0 1 0 -9 0M365.5 165.5a4.5 4.5 0 1 0 9 0a4.5 4.5 0 1 0 -9 0M368.2 164.4a4.5 4.5 0 1 0 9 0a4.5 4.5 0 1 0 -9 0M370.8 163.3a4.5 4.5 0 1 0 9 0a4.5 4.5 0 1 0 -9 0M373.3 162.1a4.5 4.5 0 1 0 9 0a4.5 4.5 0 1 0 -9 0M375.8 160.9a4.5 4.5 0 1 0 9 0a4.5 4.5 0 1 0 -9 0M378.2 159.7a4.5 4.5 0 1 0 9 0a4.5 4.5 0 1 0 -9 0M380.5 158.5a4.5 4.5 0 1 0 9 0a4.5 4.5 0 1 0 -9 0M382.9 157.2a4.5 4.5 0 1 0 9 0a4.5 4.5 0 1 0 -9 0M385.2 155.6a4.5 4.5 0 1 0 9 0a4.5 4.5 0 1 0 -9 0M387.8 154a4.5 4.5 0 1 0 9 0a4.5 4.5 0 1 0 -9 0M390.2 153.1a4.5 4.5 0 1 0 9 0a4.5 4.5 0 1 0 -9 0M392.5 153.5a4.5 4.5 0 1 0 9 0a4.5 4.5 0 1 0 -9 0M394.8 156.2a4.5 4.5 0 1 0 9 0a4.5 4.5 0 1 0 -9 0M397.2 159.2a4.5 4.5 0 1 0 9 0a4.5 4.5 0 1 0 -9 0M399.5 162.6a4.5 4.5 0 1 0 9 0a4.5 4.5 0 1 0 -9 0M402 165.9a4.5 4.5 0 1 0 9 0a4.5 4.5 0 1 0 -9 0M404.5 168.9a4.5 4.5 0 1 0 9 0a4.5 4.5 0 1 0 -9 0M407 171.6a4.5 4.5 0 1 0 9 0a4.5 4.5 0 1 0 -9 0M409.5 174.1a4.5 4.5 0 1 0 9 0a4.5 4.5 0 1 0 -9 0M411.9 176.2a4.5 4.5 0 1 0 9 0a4.5 4.5 0 1 0 -9 0M414.4 177.9a4.5 4.5 0 1 0 9 0a4.5 4.5 0 1 0 -9 0M417 179a4.5 4.5 0 1 0 9 0a4.5 4.5 0 1 0 -9 0M419.5 179.6a4.5 4.5 0 1 0 9 0a4.5 4.5 0 1 0 -9 0M422.1 180a4.5 4.5 0 1 0 9 0a4.5 4.5 0 1 0 -9 0M424.7 180.3a4.5 4.5 0 1 0 9 0a4.5 4.5 0 1 0 -9 0M427.2 180.3a4.5 4.5 0 1 0 9 0a4.5 4.5 0 1 0 -9 0M429.7 179.9a4.5 4.5 0 1 0 9 0a4.5 4.5 0 1 0 -9 0M432.3 179.4a4.5 4.5 0 1 0 9 0a4.5 4.5 0 1 0 -9 0M434.9 179a4.5 4.5 0 1 0 9 0a4.5 4.5 0 1 0 -9 0M437.5 179a4.5 4.5 0 1 0 9 0a4.5 4.5 0 1 0 -9 0M440.1 181.2a4.5 4.5 0 1 0 9 0a4.5 4.5 0 1 0 -9 0M442.7 184.8a4.5 4.5 0 1 0 9 0a4.5 4.5 0 1 0 -9 0M445.3 189.8a4.5 4.5 0 1 0 9 0a4.5 4.5 0 1 0 -9 0M447.9 194.2a4.5 4.5 0 1 0 9 0a4.5 4.5 0 1 0 -9 0M450.7 198.2a4.5 4.5 0 1 0 9 0a4.5 4.5 0 1 0 -9 0M453.5 201.5a4.5 4.5 0 1 0 9 0a4.5 4.5 0 1 0 -9 0M456.2 203.7a4.5 4.5 0 1 0 9 0a4.5 4.5 0 1 0 -9 0M459 205.9a4.5 4.5 0 1 0 9 0a4.5 4.5 0 1 0 -9 0M462 209a4.5 4.5 0 1 0 9 0a4.5 4.5 0 1 0 -9 0M464.9 212.8a4.5 4.5 0 1 0 9 0a4.5 4.5 0 1 0 -9 0M467.8 216.6a4.5 4.5 0 1 0 9 0a4.5 4.5 0 1 0 -9 0M470.6 219.1a4.5 4.5 0 1 0 9 0a4.5 4.5 0 1 0 -9 0M473.5 220.6a4.5 4.5 0 1 0 9 0a4.5 4.5 0 1 0 -9 0M476.3 222.1a4.5 4.5 0 1 0 9 0a4.5 4.5 0 1 0 -9 0M479.4 223.9a4.5 4.5 0 1 0 9 0a4.5 4.5 0 1 0 -9 0M482.5 225.8a4.5 4.5 0 1 0 9 0a4.5 4.5 0 1 0 -9 0M485.4 227.5a4.5 4.5 0 1 0 9 0a4.5 4.5 0 1 0 -9 0M488.3 229.2a4.5 4.5 0 1 0 9 0a4.5 4.5 0 1 0 -9 0M491.2 231.8a4.5 4.5 0 1 0 9 0a4.5 4.5 0 1 0 -9 0M494.1 236.2a4.5 4.5 0 1 0 9 0a4.5 4.5 0 1 0 -9 0M497 240.4a4.5 4.5 0 1 0 9 0a4.5 4.5 0 1 0 -9 0M500.2 244.3a4.5 4.5 0 1 0 9 0a4.5 4.5 0 1 0 -9 0M503.1 248.1a4.5 4.5 0 1 0 9 0a4.5 4.5 0 1 0 -9 0M506.2 252.5a4.5 4.5 0 1 0 9 0a4.5 4.5 0 1 0 -9 0M509.3 255.6a4.5 4.5 0 1 0 9 0a4.5 4.5 0 1 0 -9 0M512.5 257.3a4.5 4.5 0 1 0 9 0a4.5 4.5 0 1 0 -9 0M515.9 259.3a4.5 4.5 0 1 0 9 0a4.5 4.5 0 1 0 -9 0M519.4 262.5a4.5 4.5 0 1 0 9 0a4.5 4.5 0 1 0 -9 0M522.9 266a4.5 4.5 0 1 0 9 0a4.5 4.5 0 1 0 -9 0M526 269.3a4.5 4.5 0 1 0 9 0a4.5 4.5 0 1 0 -9 0M57.5 378a4.5 4.5 0 1 0 9 0a4.5 4.5 0 1 0 -9 0M58.2 375.3a4.5 4.5 0 1 0 9 0a4.5 4.5 0 1 0 -9 0M58.7 372.1a4.5 4.5 0 1 0 9 0a4.5 4.5 0 1 0 -9 0M58.8 368a4.5 4.5 0 1 0 9 0a4.5 4.5 0 1 0 -9 0M58.9 363.9a4.5 4.5 0 1 0 9 0a4.5 4.5 0 1 0 -9 0M58.9 359.9a4.5 4.5 0 1 0 9 0a4.5 4.5 0 1 0 -9 0M58.9 355.5a4.5 4.5 0 1 0 9 0a4.5 4.5 0 1 0 -9 0M59 351.1a4.5 4.5 0 1 0 9 0a4.5 4.5 0 1 0 -9 0M59.1 346.8a4.5 4.5 0 1 0 9 0a4.5 4.5 0 1 0 -9 0M59.2 342.6a4.5 4.5 0 1 0 9 0a4.5 4.5 0 1 0 -9 0M59.3 338.6a4.5 4.5 0 1 0 9 0a4.5 4.5 0 1 0 -9 0M59.4 334.4a4.5 4.5 0 1 0 9 0a4.5 4.5 0 1 0 -9 0M59.6 330.3a4.5 4.5 0 1 0 9 0a4.5 4.5 0 1 0 -9 0M59.7 326.3a4.5 4.5 0 1 0 9 0a4.5 4.5 0 1 0 -9 0M59.8 322a4.5 4.5 0 1 0 9 0a4.5 4.5 0 1 0 -9 0M60.1 318.1a4.5 4.5 0 1 0 9 0a4.5 4.5 0 1 0 -9 0M60.7 315.1a4.5 4.5 0 1 0 9 0a4.5 4.5 0 1 0 -9 0M61.5 312.5a4.5 4.5 0 1 0 9 0a4.5 4.5 0 1 0 -9 0M62.2 310.2a4.5 4.5 0 1 0 9 0a4.5 4.5 0 1 0 -9 0M62.9 308.1a4.5 4.5 0 1 0 9 0a4.5 4.5 0 1 0 -9 0M63.7 306.3a4.5 4.5 0 1 0 9 0a4.5 4.5 0 1 0 -9 0M64.4 304.6a4.5 4.5 0 1 0 9 0a4.5 4.5 0 1 0 -9 0M65.3 302.9a4.5 4.5 0 1 0 9 0a4.5 4.5 0 1 0 -9 0M66.1 301.3a4.5 4.5 0 1 0 9 0a4.5 4.5 0 1 0 -9 0M66.9 299.9a4.5 4.5 0 1 0 9 0a4.5 4.5 0 1 0 -9 0M67.7 298.6a4.5 4.5 0 1 0 9 0a4.5 4.5 0 1 0 -9 0M68.5 297.3a4.5 4.5 0 1 0 9 0a4.5 4.5 0 1 0 -9 0M69.3 296.1a4.5 4.5 0 1 0 9 0a4.5 4.5 0 1 0 -9 0M70.2 294.9a4.5 4.5 0 1 0 9 0a4.5 4.5 0 1 0 -9 0M71 293.7a4.5 4.5 0 1 0 9 0a4.5 4.5 0 1 0 -9 0M71.9 292.6a4.5 4.5 0 1 0 9 0a4.5 4.5 0 1 0 -9 0M72.8 291.6a4.5 4.5 0 1 0 9 0a4.5 4.5 0 1 0 -9 0M73.7 290.5a4.5 4.5 0 1 0 9 0a4.5 4.5 0 1 0 -9 0M74.5 289.7a4.5 4.5 0 1 0 9 0a4.5 4.5 0 1 0 -9 0M75.3 288.8a4.5 4.5 0 1 0 9 0a4.5 4.5 0 1 0 -9 0M76.2 288a4.5 4.5 0 1 0 9 0a4.5 4.5 0 1 0 -9 0M77.2 287.2a4.5 4.5 0 1 0 9 0a4.5 4.5 0 1 0 -9 0M78.1 286.4a4.5 4.5 0 1 0 9 0a4.5 4.5 0 1 0 -9 0M79.1 285.6a4.5 4.5 0 1 0 9 0a4.5 4.5 0 1 0 -9 0M80 284.9a4.5 4.5 0 1 0 9 0a4.5 4.5 0 1 0 -9 0M81 284.2a4.5 4.5 0 1 0 9 0a4.5 4.5 0 1 0 -9 0M81.9 283.5a4.5 4.5 0 1 0 9 0a4.5 4.5 0 1 0 -9 0M82.8 282.9a4.5 4.5 0 1 0 9 0a4.5 4.5 0 1 0 -9 0M83.8 282.3a4.5 4.5 0 1 0 9 0a4.5 4.5 0 1 0 -9 0M84.7 281.7a4.5 4.5 0 1 0 9 0a4.5 4.5 0 1 0 -9 0M85.7 281.1a4.5 4.5 0 1 0 9 0a4.5 4.5 0 1 0 -9 0M86.7 280.5a4.5 4.5 0 1 0 9 0a4.5 4.5 0 1 0 -9 0M87.5 280a4.5 4.5 0 1 0 9 0a4.5 4.5 0 1 0 -9 0M88.3 279.5a4.5 4.5 0 1 0 9 0a4.5 4.5 0 1 0 -9 0M89.2 279.1a4.5 4.5 0 1 0 9 0a4.5 4.5 0 1 0 -9 0M90 278.6a4.5 4.5 0 1 0 9 0a4.5 4.5 0 1 0 -9 0M90.8 278.1a4.5 4.5 0 1 0 9 0a4.5 4.5 0 1 0 -9 0M91.7 277.6a4.5 4.5 0 1 0 9 0a4.5 4.5 0 1 0 -9 0M92.6 277.2a4.5 4.5 0 1 0 9 0a4.5 4.5 0 1 0 -9 0M93.5 276.7a4.5 4.5 0 1 0 9 0a4.5 4.5 0 1 0 -9 0M94.5 276.2a4.5 4.5 0 1 0 9 0a4.5 4.5 0 1 0 -9 0M95.5 275.8a4.5 4.5 0 1 0 9 0a4.5 4.5 0 1 0 -9 0M96.5 275.3a4.5 4.5 0 1 0 9 0a4.5 4.5 0 1 0 -9 0M97.5 274.9a4.5 4.5 0 1 0 9 0a4.5 4.5 0 1 0 -9 0M98.6 274.5a4.5 4.5 0 1 0 9 0a4.5 4.5 0 1 0 -9 0M99.4 274.2a4.5 4.5 0 1 0 9 0a4.5 4.5 0 1 0 -9 0M100.2 273.9a4.5 4.5 0 1 0 9 0a4.5 4.5 0 1 0 -9 0M101.6 273.4a4.5 4.5 0 1 0 9 0a4.5 4.5 0 1 0 -9 0M103 273a4.5 4.5 0 1 0 9 0a4.5 4.5 0 1 0 -9 0M104.5 272.6a4.5 4.5 0 1 0 9 0a4.5 4.5 0 1 0 -9 0M106 272.2a4.5 4.5 0 1 0 9 0a4.5 4.5 0 1 0 -9 0M107.6 271.8a4.5 4.5 0 1 0 9 0a4.5 4.5 0 1 0 -9 0M108.9 271.5a4.5 4.5 0 1 0 9 0a4.5 4.5 0 1 0 -9 0M110.2 271.2a4.5 4.5 0 1 0 9 0a4.5 4.5 0 1 0 -9 0M111.7 270.9a4.5 4.5 0 1 0 9 0a4.5 4.5 0 1 0 -9 0M113 270.6a4.5 4.5 0 1 0 9 0a4.5 4.5 0 1 0 -9 0M114.8 270.2a4.5 4.5 0 1 0 9 0a4.5 4.5 0 1 0 -9 0M116.7 269.7a4.5 4.5 0 1 0 9 0a4.5 4.5 0 1 0 -9 0M118.6 269.3a4.5 4.5 0 1 0 9 0a4.5 4.5 0 1 0 -9 0M120.7 268.8a4.5 4.5 0 1 0 9 0a4.5 4.5 0 1 0 -9 0M122.8 268.4a4.5 4.5 0 1 0 9 0a4.5 4.5 0 1 0 -9 0M125.1 267.9a4.5 4.5 0 1 0 9 0a4.5 4.5 0 1 0 -9 0M127.3 267.4a4.5 4.5 0 1 0 9 0a4.5 4.5 0 1 0 -9 0M129.7 266.9a4.5 4.5 0 1 0 9 0a4.5 4.5 0 1 0 -9 0M132.1 266.4a4.5 4.5 0 1 0 9 0a4.5 4.5 0 1 0 -9 0M133.3 266.2a4.5 4.5 0 1 0 9 0a4.5 4.5 0 1 0 -9 0M134.5 265.9a4.5 4.5 0 1 0 9 0a4.5 4.5 0 1 0 -9 0M135.7 265.7a4.5 4.5 0 1 0 9 0a4.5 4.5 0 1 0 -9 0M136.9 265.4a4.5 4.5 0 1 0 9 0a4.5 4.5 0 1 0 -9 0M139.4 264.9a4.5 4.5 0 1 0 9 0a4.5 4.5 0 1 0 -9 0M141.8 264.4a4.5 4.5 0 1 0 9 0a4.5 4.5 0 1 0 -9 0M144.3 263.9a4.5 4.5 0 1 0 9 0a4.5 4.5 0 1 0 -9 0M147 263.3a4.5 4.5 0 1 0 9 0a4.5 4.5 0 1 0 -9 0M148.5 262.9a4.5 4.5 0 1 0 9 0a4.5 4.5 0 1 0 -9 0M150.1 262.6a4.5 4.5 0 1 0 9 0a4.5 4.5 0 1 0 -9 0M151.7 262.2a4.5 4.5 0 1 0 9 0a4.5 4.5 0 1 0 -9 0M153.2 261.9a4.5 4.5 0 1 0 9 0a4.5 4.5 0 1 0 -9 0M154.8 261.5a4.5 4.5 0 1 0 9 0a4.5 4.5 0 1 0 -9 0M156.5 261.2a4.5 4.5 0 1 0 9 0a4.5 4.5 0 1 0 -9 0M158.1 260.8a4.5 4.5 0 1 0 9 0a4.5 4.5 0 1 0 -9 0M159.7 260.4a4.5 4.5 0 1 0 9 0a4.5 4.5 0 1 0 -9 0M161.4 260a4.5 4.5 0 1 0 9 0a4.5 4.5 0 1 0 -9 0M163.1 259.6a4.5 4.5 0 1 0 9 0a4.5 4.5 0 1 0 -9 0M164.8 259.3a4.5 4.5 0 1 0 9 0a4.5 4.5 0 1 0 -9 0M166.4 258.9a4.5 4.5 0 1 0 9 0a4.5 4.5 0 1 0 -9 0M168.1 258.5a4.5 4.5 0 1 0 9 0a4.5 4.5 0 1 0 -9 0M169.8 258.1a4.5 4.5 0 1 0 9 0a4.5 4.5 0 1 0 -9 0M171.6 257.7a4.5 4.5 0 1 0 9 0a4.5 4.5 0 1 0 -9 0M173.3 257.3a4.5 4.5 0 1 0 9 0a4.5 4.5 0 1 0 -9 0M176.7 256.6a4.5 4.5 0 1 0 9 0a4.5 4.5 0 1 0 -9 0M180.2 255.9a4.5 4.5 0 1 0 9 0a4.5 4.5 0 1 0 -9 0M183.6 255.2a4.5 4.5 0 1 0 9 0a4.5 4.5 0 1 0 -9 0M187 254.5a4.5 4.5 0 1 0 9 0a4.5 4.5 0 1 0 -9 0M190.4 253.9a4.5 4.5 0 1 0 9 0a4.5 4.5 0 1 0 -9 0M193.8 253.3a4.5 4.5 0 1 0 9 0a4.5 4.5 0 1 0 -9 0M197.2 252.7a4.5 4.5 0 1 0 9 0a4.5 4.5 0 1 0 -9 0M200.5 252.2a4.5 4.5 0 1 0 9 0a4.5 4.5 0 1 0 -9 0M203.9 251.8a4.5 4.5 0 1 0 9 0a4.5 4.5 0 1 0 -9 0M207.3 251.3a4.5 4.5 0 1 0 9 0a4.5 4.5 0 1 0 -9 0M210.6 250.9a4.5 4.5 0 1 0 9 0a4.5 4.5 0 1 0 -9 0M214 250.5a4.5 4.5 0 1 0 9 0a4.5 4.5 0 1 0 -9 0M217.4 250.2a4.5 4.5 0 1 0 9 0a4.5 4.5 0 1 0 -9 0M220.8 249.8a4.5 4.5 0 1 0 9 0a4.5 4.5 0 1 0 -9 0M224.2 249.5a4.5 4.5 0 1 0 9 0a4.5 4.5 0 1 0 -9 0M227.6 249.1a4.5 4.5 0 1 0 9 0a4.5 4.5 0 1 0 -9 0M230.9 248.8a4.5 4.5 0 1 0 9 0a4.5 4.5 0 1 0 -9 0M234.2 248.5a4.5 4.5 0 1 0 9 0a4.5 4.5 0 1 0 -9 0M237.5 248.2a4.5 4.5 0 1 0 9 0a4.5 4.5 0 1 0 -9 0M240.7 247.9a4.5 4.5 0 1 0 9 0a4.5 4.5 0 1 0 -9 0M243.9 247.6a4.5 4.5 0 1 0 9 0a4.5 4.5 0 1 0 -9 0M246.9 247.4a4.5 4.5 0 1 0 9 0a4.5 4.5 0 1 0 -9 0M249.8 247.1a4.5 4.5 0 1 0 9 0a4.5 4.5 0 1 0 -9 0M252.7 246.8a4.5 4.5 0 1 0 9 0a4.5 4.5 0 1 0 -9 0M255.7 246.5a4.5 4.5 0 1 0 9 0a4.5 4.5 0 1 0 -9 0M258.7 246.2a4.5 4.5 0 1 0 9 0a4.5 4.5 0 1 0 -9 0M261.6 245.9a4.5 4.5 0 1 0 9 0a4.5 4.5 0 1 0 -9 0M264.6 245.6a4.5 4.5 0 1 0 9 0a4.5 4.5 0 1 0 -9 0M267.4 245.4a4.5 4.5 0 1 0 9 0a4.5 4.5 0 1 0 -9 0M270.3 245.1a4.5 4.5 0 1 0 9 0a4.5 4.5 0 1 0 -9 0M273 244.9a4.5 4.5 0 1 0 9 0a4.5 4.5 0 1 0 -9 0M275.6 244.7a4.5 4.5 0 1 0 9 0a4.5 4.5 0 1 0 -9 0M278.1 244.6a4.5 4.5 0 1 0 9 0a4.5 4.5 0 1 0 -9 0M280.4 244.5a4.5 4.5 0 1 0 9 0a4.5 4.5 0 1 0 -9 0M282.6 244.4a4.5 4.5 0 1 0 9 0a4.5 4.5 0 1 0 -9 0M285.5 244.4a4.5 4.5 0 1 0 9 0a4.5 4.5 0 1 0 -9 0M287.5 244.5a4.5 4.5 0 1 0 9 0a4.5 4.5 0 1 0 -9 0M289.5 244.7a4.5 4.5 0 1 0 9 0a4.5 4.5 0 1 0 -9 0M291.6 244.9a4.5 4.5 0 1 0 9 0a4.5 4.5 0 1 0 -9 0M293.7 245.3a4.5 4.5 0 1 0 9 0a4.5 4.5 0 1 0 -9 0M296.1 245.7a4.5 4.5 0 1 0 9 0a4.5 4.5 0 1 0 -9 0M298.4 246a4.5 4.5 0 1 0 9 0a4.5 4.5 0 1 0 -9 0M300.9 246.3a4.5 4.5 0 1 0 9 0a4.5 4.5 0 1 0 -9 0M303.6 246.7a4.5 4.5 0 1 0 9 0a4.5 4.5 0 1 0 -9 0M305.6 247a4.5 4.5 0 1 0 9 0a4.5 4.5 0 1 0 -9 0M307.7 247.4a4.5 4.5 0 1 0 9 0a4.5 4.5 0 1 0 -9 0M309.8 247.8a4.5 4.5 0 1 0 9 0a4.5 4.5 0 1 0 -9 0M312 248.3a4.5 4.5 0 1 0 9 0a4.5 4.5 0 1 0 -9 0M314.1 248.9a4.5 4.5 0 1 0 9 0a4.5 4.5 0 1 0 -9 0M316.4 249.6a4.5 4.5 0 1 0 9 0a4.5 4.5 0 1 0 -9 0M319 250.6a4.5 4.5 0 1 0 9 0a4.5 4.5 0 1 0 -9 0M321.6 251.7a4.5 4.5 0 1 0 9 0a4.5 4.5 0 1 0 -9 0M324.4 253a4.5 4.5 0 1 0 9 0a4.5 4.5 0 1 0 -9 0M327.1 254.4a4.5 4.5 0 1 0 9 0a4.5 4.5 0 1 0 -9 0M329.9 255.8a4.5 4.5 0 1 0 9 0a4.5 4.5 0 1 0 -9 0M332.6 257.3a4.5 4.5 0 1 0 9 0a4.5 4.5 0 1 0 -9 0M335.4 258.8a4.5 4.5 0 1 0 9 0a4.5 4.5 0 1 0 -9 0M338.1 260.2a4.5 4.5 0 1 0 9 0a4.5 4.5 0 1 0 -9 0M340.8 261.6a4.5 4.5 0 1 0 9 0a4.5 4.5 0 1 0 -9 0M343.3 262.9a4.5 4.5 0 1 0 9 0a4.5 4.5 0 1 0 -9 0M345.7 264.1a4.5 4.5 0 1 0 9 0a4.5 4.5 0 1 0 -9 0M348 265.3a4.5 4.5 0 1 0 9 0a4.5 4.5 0 1 0 -9 0M350.4 266.5a4.5 4.5 0 1 0 9 0a4.5 4.5 0 1 0 -9 0M352.7 267.8a4.5 4.5 0 1 0 9 0a4.5 4.5 0 1 0 -9 0M355 269a4.5 4.5 0 1 0 9 0a4.5 4.5 0 1 0 -9 0M357.3 270.2a4.5 4.5 0 1 0 9 0a4.5 4.5 0 1 0 -9 0M359.5 271.4a4.5 4.5 0 1 0 9 0a4.5 4.5 0 1 0 -9 0M361.8 272.5a4.5 4.5 0 1 0 9 0a4.5 4.5 0 1 0 -9 0M364 273.7a4.5 4.5 0 1 0 9 0a4.5 4.5 0 1 0 -9 0M366.2 274.9a4.5 4.5 0 1 0 9 0a4.5 4.5 0 1 0 -9 0M369.1 276.4a4.5 4.5 0 1 0 9 0a4.5 4.5 0 1 0 -9 0M371.3 277.5a4.5 4.5 0 1 0 9 0a4.5 4.5 0 1 0 -9 0M373.5 278.7a4.5 4.5 0 1 0 9 0a4.5 4.5 0 1 0 -9 0M375.7 279.9a4.5 4.5 0 1 0 9 0a4.5 4.5 0 1 0 -9 0M378.5 281.4a4.5 4.5 0 1 0 9 0a4.5 4.5 0 1 0 -9 0M381.2 282.7a4.5 4.5 0 1 0 9 0a4.5 4.5 0 1 0 -9 0M383.5 284a4.5 4.5 0 1 0 9 0a4.5 4.5 0 1 0 -9 0M385.9 285.2a4.5 4.5 0 1 0 9 0a4.5 4.5 0 1 0 -9 0M388.3 286.6a4.5 4.5 0 1 0 9 0a4.5 4.5 0 1 0 -9 0M390.7 287.6a4.5 4.5 0 1 0 9 0a4.5 4.5 0 1 0 -9 0M393.1 288a4.5 4.5 0 1 0 9 0a4.5 4.5 0 1 0 -9 0M395.5 288.3a4.5 4.5 0 1 0 9 0a4.5 4.5 0 1 0 -9 0M398 288.7a4.5 4.5 0 1 0 9 0a4.5 4.5 0 1 0 -9 0M400.5 289a4.5 4.5 0 1 0 9 0a4.5 4.5 0 1 0 -9 0M403.1 289.4a4.5 4.5 0 1 0 9 0a4.5 4.5 0 1 0 -9 0M406 289.8a4.5 4.5 0 1 0 9 0a4.5 4.5 0 1 0 -9 0M408.9 290.3a4.5 4.5 0 1 0 9 0a4.5 4.5 0 1 0 -9 0M411.9 290.8a4.5 4.5 0 1 0 9 0a4.5 4.5 0 1 0 -9 0M414.8 291.4a4.5 4.5 0 1 0 9 0a4.5 4.5 0 1 0 -9 0M417.9 292a4.5 4.5 0 1 0 9 0a4.5 4.5 0 1 0 -9 0M420.4 292.6a4.5 4.5 0 1 0 9 0a4.5 4.5 0 1 0 -9 0M422.9 293.2a4.5 4.5 0 1 0 9 0a4.5 4.5 0 1 0 -9 0M425.5 293.9a4.5 4.5 0 1 0 9 0a4.5 4.5 0 1 0 -9 0M428 294.5a4.5 4.5 0 1 0 9 0a4.5 4.5 0 1 0 -9 0M430.6 295.2a4.5 4.5 0 1 0 9 0a4.5 4.5 0 1 0 -9 0M433.1 295.9a4.5 4.5 0 1 0 9 0a4.5 4.5 0 1 0 -9 0M436.5 296.9a4.5 4.5 0 1 0 9 0a4.5 4.5 0 1 0 -9 0M439.7 297.8a4.5 4.5 0 1 0 9 0a4.5 4.5 0 1 0 -9 0M442.6 298.6a4.5 4.5 0 1 0 9 0a4.5 4.5 0 1 0 -9 0M445.4 299.4a4.5 4.5 0 1 0 9 0a4.5 4.5 0 1 0 -9 0M448.1 300.3a4.5 4.5 0 1 0 9 0a4.5 4.5 0 1 0 -9 0M450.8 301.2a4.5 4.5 0 1 0 9 0a4.5 4.5 0 1 0 -9 0M454.1 302.2a4.5 4.5 0 1 0 9 0a4.5 4.5 0 1 0 -9 0M457.3 303.2a4.5 4.5 0 1 0 9 0a4.5 4.5 0 1 0 -9 0M460.5 304a4.5 4.5 0 1 0 9 0a4.5 4.5 0 1 0 -9 0M463.7 304.8a4.5 4.5 0 1 0 9 0a4.5 4.5 0 1 0 -9 0M466.8 305.4a4.5 4.5 0 1 0 9 0a4.5 4.5 0 1 0 -9 0M469.8 306.1a4.5 4.5 0 1 0 9 0a4.5 4.5 0 1 0 -9 0M472.7 306.6a4.5 4.5 0 1 0 9 0a4.5 4.5 0 1 0 -9 0M475.9 307.1a4.5 4.5 0 1 0 9 0a4.5 4.5 0 1 0 -9 0M479 307.5a4.5 4.5 0 1 0 9 0a4.5 4.5 0 1 0 -9 0M481.9 307.8a4.5 4.5 0 1 0 9 0a4.5 4.5 0 1 0 -9 0M484.8 307.8a4.5 4.5 0 1 0 9 0a4.5 4.5 0 1 0 -9 0M487.8 307.5a4.5 4.5 0 1 0 9 0a4.5 4.5 0 1 0 -9 0M490.7 306.9a4.5 4.5 0 1 0 9 0a4.5 4.5 0 1 0 -9 0M493.7 306a4.5 4.5 0 1 0 9 0a4.5 4.5 0 1 0 -9 0M496.9 304.9a4.5 4.5 0 1 0 9 0a4.5 4.5 0 1 0 -9 0M499.9 304a4.5 4.5 0 1 0 9 0a4.5 4.5 0 1 0 -9 0M502.9 302.8a4.5 4.5 0 1 0 9 0a4.5 4.5 0 1 0 -9 0M506 301.5a4.5 4.5 0 1 0 9 0a4.5 4.5 0 1 0 -9 0M509.1 299.9a4.5 4.5 0 1 0 9 0a4.5 4.5 0 1 0 -9 0M512.1 297.8a4.5 4.5 0 1 0 9 0a4.5 4.5 0 1 0 -9 0M515.6 294.9a4.5 4.5 0 1 0 9 0a4.5 4.5 0 1 0 -9 0M518.9 291.7a4.5 4.5 0 1 0 9 0a4.5 4.5 0 1 0 -9 0M522 288.4a4.5 4.5 0 1 0 9 0a4.5 4.5 0 1 0 -9 0M525.2 284.4a4.5 4.5 0 1 0 9 0a4.5 4.5 0 1 0 -9 0M528.1 279a4.5 4.5 0 1 0 9 0a4.5 4.5 0 1 0 -9 0" fill="none" stroke="#00e000" stroke-width="1.6"/>
<path d="M58.2 362h8v8h-8zM58.3 336h8v8h-8zM58.4 296h8v8h-8zM58.5 258h8v8h-8zM58.7 226h8v8h-8zM59 186h8v8h-8zM59.6 156h8v8h-8zM60.3 131h8v8h-8zM60.8 116h8v8h-8zM61 110h8v8h-8zM61.6 115.3h8v8h-8zM62 121h8v8h-8zM62.3 127.1h8v8h-8zM62.7 133.2h8v8h-8zM63.1 139.3h8v8h-8zM63.4 145.9h8v8h-8zM63.6 152.6h8v8h-8zM63.8 159.1h8v8h-8zM64.2 165.5h8v8h-8zM64.3 172h8v8h-8zM64.8 175.7h8v8h-8zM65.6 172.8h8v8h-8zM66.3 169.8h8v8h-8zM67 167.2h8v8h-8zM67.8 164.4h8v8h-8zM68.6 162h8v8h-8zM69.5 159.8h8v8h-8zM70.3 157.6h8v8h-8zM71.1 155.8h8v8h-8zM71.9 154.2h8v8h-8zM72.7 152.7h8v8h-8zM73.6 151.2h8v8h-8zM74.4 150h8v8h-8zM75.2 148.8h8v8h-8zM76.1 147.9h8v8h-8zM77 147.1h8v8h-8zM77.9 146.4h8v8h-8zM78.8 145.8h8v8h-8zM79.8 145.3h8v8h-8zM80.6 145h8v8h-8zM81.5 144.6h8v8h-8zM82.4 144.4h8v8h-8zM83.2 144.4h8v8h-8zM84 144.6h8v8h-8zM84.8 145.1h8v8h-8zM85.7 145.9h8v8h-8zM86.5 147h8v8h-8zM87.3 148.8h8v8h-8zM88 151.7h8v8h-8zM88.7 155h8v8h-8zM89.4 158.7h8v8h-8zM90.1 162.6h8v8h-8zM90.8 166.8h8v8h-8zM91.4 170.7h8v8h-8zM92.1 174.2h8v8h-8zM92.8 177.4h8v8h-8zM93.7 180h8v8h-8zM94.5 182.3h8v8h-8zM95.3 184.2h8v8h-8zM96.2 185.3h8v8h-8zM97.1 185.7h8v8h-8zM98 185.9h8v8h-8zM98.9 185.9h8v8h-8zM99.9 185.7h8v8h-8zM100.9 185.4h8v8h-8zM102.2 184.9h8v8h-8zM103.4 184h8v8h-8zM104.7 182.5h8v8h-8zM106.1 181h8v8h-8zM107.3 179.9h8v8h-8zM108.7 179.2h8v8h-8zM110.1 178.9h8v8h-8zM111.4 178.7h8v8h-8zM112.7 178.7h8v8h-8zM114.1 178.6h8v8h-8zM115.4 178.6h8v8h-8zM117.1 178.4h8v8h-8zM118.8 178.2h8v8h-8zM120 178h8v8h-8zM121.2 177.9h8v8h-8zM122.5 177.7h8v8h-8zM123.8 177.6h8v8h-8zM125.2 177.4h8v8h-8zM126.6 177.3h8v8h-8zM128 177.2h8v8h-8zM129.4 177.1h8v8h-8zM130.9 177h8v8h-8zM132.3 177h8v8h-8zM133.8 176.9h8v8h-8zM135.3 177h8v8h-8zM136.9 177.1h8v8h-8zM138.7 177.2h8v8h-8zM140.6 177.5h8v8h-8zM142.4 177.8h8v8h-8zM144.3 178.1h8v8h-8zM146.2 178.5h8v8h-8zM148.2 178.9h8v8h-8zM150.1 179.4h8v8h-8zM152.1 179.8h8v8h-8zM154.2 180.3h8v8h-8zM156.2 180.7h8v8h-8zM158.3 181.1h8v8h-8zM160.5 181.5h8v8h-8zM162.7 181.8h8v8h-8zM164.9 182.1h8v8h-8zM167.5 182.3h8v8h-8zM170.5 182.6h8v8h-8zM173.7 182.7h8v8h-8zM177 182.9h8v8h-8zM180.4 183h8v8h-8zM183.9 183h8v8h-8zM187.4 183.1h8v8h-8zM191 183.1h8v8h-8zM194.5 183.1h8v8h-8zM198 183.1h8v8h-8zM201.5 183.1h8v8h-8zM204.9 183.1h8v8h-8zM208.3 183h8v8h-8zM211.5 183h8v8h-8zM214.5 183h8v8h-8zM217.1 183h8v8h-8zM219.3 183h8v8h-8zM221.4 183h8v8h-8zM223.4 183.1h8v8h-8zM226.4 183.1h8v8h-8zM229.3 183.2h8v8h-8zM232.2 183.2h8v8h-8zM235 183.2h8v8h-8zM237.9 183.1h8v8h-8zM240.9 183h8v8h-8zM242.9 182.9h8v8h-8zM244.9 182.7h8v8h-8zM247.3 182.5h8v8h-8zM249.8 182.2h8v8h-8zM252.4 181.8h8v8h-8zM255.1 181.4h8v8h-8zM257.8 180.9h8v8h-8zM260.5 180.4h8v8h-8zM263.3 179.9h8v8h-8zM266 179.4h8v8h-8zM268.8 178.8h8v8h-8zM271.5 178.3h8v8h-8zM274.2 177.7h8v8h-8zM276.9 177.2h8v8h-8zM279.6 176.6h8v8h-8zM282.2 176.2h8v8h-8zM284.8 175.7h8v8h-8zM287.1 175.3h8v8h-8zM289.2 175h8v8h-8zM291.3 174.7h8v8h-8zM293.3 174.4h8v8h-8zM295.3 174.2h8v8h-8zM297.3 173.9h8v8h-8zM300.3 173.6h8v8h-8zM303.3 173.2h8v8h-8zM306.2 172.8h8v8h-8zM309.1 172.3h8v8h-8zM312.1 171.8h8v8h-8zM315 171.2h8v8h-8zM317 170.8h8v8h-8zM319 170.3h8v8h-8zM321.1 169.7h8v8h-8zM323.2 169.2h8v8h-8zM325.2 168.6h8v8h-8zM327.3 167.9h8v8h-8zM329.4 167.3h8v8h-8zM331.4 166.6h8v8h-8zM333.4 166h8v8h-8zM335.5 165.3h8v8h-8zM338.4 164.3h8v8h-8zM341.4 163.4h8v8h-8zM344.2 162.5h8v8h-8zM346.7 161.8h8v8h-8zM348.9 161.2h8v8h-8zM351 160.7h8v8h-8zM353.1 160.2h8v8h-8zM355.8 159.6h8v8h-8zM358.4 159h8v8h-8zM361 158.3h8v8h-8zM363.5 157.5h8v8h-8zM366 156.5h8v8h-8zM368.3 155.5h8v8h-8zM370.7 154.4h8v8h-8zM373 153.2h8v8h-8zM375.3 151.9h8v8h-8zM377.9 150.3h8v8h-8zM380.3 148.5h8v8h-8zM382.6 146.3h8v8h-8zM385 142.9h8v8h-8zM387.3 138.6h8v8h-8zM389.7 135.2h8v8h-8zM392 132.9h8v8h-8zM394.5 131.2h8v8h-8zM396.8 130.2h8v8h-8zM399.3 129.4h8v8h-8zM401.7 129h8v8h-8zM404.2 128.9h8v8h-8zM406.6 129.3h8v8h-8zM409.1 131.2h8v8h-8zM411.4 137.5h8v8h-8zM413.2 151.3h8v8h-8zM415.3 161.1h8v8h-8zM417.7 167.9h8v8h-8zM420.1 173.6h8v8h-8zM422.6 177.1h8v8h-8zM425.2 179.7h8v8h-8zM427.7 181.8h8v8h-8zM430.3 183.6h8v8h-8zM433.1 185.2h8v8h-8zM435.7 186.8h8v8h-8zM438.4 188.6h8v8h-8zM441.1 190.6h8v8h-8zM443.8 192.6h8v8h-8zM446.4 195h8v8h-8zM449 197.4h8v8h-8zM451.9 199.7h8v8h-8zM454.9 201.8h8v8h-8zM457.6 203.6h8v8h-8zM460.3 205.5h8v8h-8zM463.4 207.8h8v8h-8zM466.3 210.2h8v8h-8zM469.3 212.7h8v8h-8zM472.3 215.1h8v8h-8zM475.3 217.4h8v8h-8zM478.4 219.8h8v8h-8zM481.3 222.3h8v8h-8zM484.4 224.8h8v8h-8zM487.4 227.5h8v8h-8zM490.4 230.3h8v8h-8zM493.4 233.9h8v8h-8zM496.3 237.9h8v8h-8zM499.3 241.9h8v8h-8zM502.3 245.5h8v8h-8zM505.2 248.6h8v8h-8zM508.3 251.6h8v8h-8zM511.3 254.3h8v8h-8zM514.3 256.5h8v8h-8zM517.4 258.6h8v8h-8zM520.7 260.8h8v8h-8zM524 262.9h8v8h-8zM527.3 264.9h8v8h-8zM58.2 374h8v8h-8zM58.8 371.3h8v8h-8zM59.4 368.1h8v8h-8zM59.6 364.1h8v8h-8zM59.8 360h8v8h-8zM59.9 355.9h8v8h-8zM60.1 352h8v8h-8zM60.2 348h8v8h-8zM60.4 343.7h8v8h-8zM60.6 339.7h8v8h-8zM60.9 335.7h8v8h-8zM61.1 331.9h8v8h-8zM61.5 328.2h8v8h-8zM61.9 324.3h8v8h-8zM62.2 320.6h8v8h-8zM62.6 316.7h8v8h-8zM63.1 313.7h8v8h-8zM63.7 311.1h8v8h-8zM64.4 308.6h8v8h-8zM65.2 306.4h8v8h-8zM65.9 304.4h8v8h-8zM66.7 302.5h8v8h-8zM67.5 300.9h8v8h-8zM68.3 299.3h8v8h-8zM69.1 297.7h8v8h-8zM70 296.3h8v8h-8zM70.7 295h8v8h-8zM71.5 293.8h8v8h-8zM72.3 292.7h8v8h-8zM73.2 291.6h8v8h-8zM74 290.5h8v8h-8zM74.8 289.5h8v8h-8zM75.7 288.5h8v8h-8zM76.6 287.5h8v8h-8zM77.4 286.7h8v8h-8zM78.2 285.9h8v8h-8zM79.1 285.1h8v8h-8zM80 284.4h8v8h-8zM80.9 283.6h8v8h-8zM81.8 282.9h8v8h-8zM82.7 282.3h8v8h-8zM83.6 281.6h8v8h-8zM84.5 281h8v8h-8zM85.4 280.4h8v8h-8zM86.3 279.9h8v8h-8zM87.3 279.3h8v8h-8zM88.2 278.7h8v8h-8zM89.2 278.1h8v8h-8zM90 277.6h8v8h-8zM90.8 277.2h8v8h-8zM91.6 276.7h8v8h-8zM92.5 276.2h8v8h-8zM93.3 275.8h8v8h-8zM94.2 275.3h8v8h-8zM95.1 274.9h8v8h-8zM96 274.4h8v8h-8zM96.9 274h8v8h-8zM97.9 273.6h8v8h-8zM98.9 273.1h8v8h-8zM99.9 272.7h8v8h-8zM100.9 272.3h8v8h-8zM102.2 271.9h8v8h-8zM103.5 271.5h8v8h-8zM105 271.1h8v8h-8zM106.4 270.7h8v8h-8zM108 270.3h8v8h-8zM109.2 270h8v8h-8zM110.5 269.7h8v8h-8zM111.8 269.4h8v8h-8zM113.2 269.1h8v8h-8zM114.9 268.7h8v8h-8zM116.7 268.3h8v8h-8zM118.6 267.9h8v8h-8zM120.6 267.4h8v8h-8zM122.7 267h8v8h-8zM124.8 266.5h8v8h-8zM127 266.1h8v8h-8zM129.3 265.6h8v8h-8zM131.6 265.1h8v8h-8zM134 264.6h8v8h-8zM136.3 264.1h8v8h-8zM138.7 263.6h8v8h-8zM141.2 263.1h8v8h-8zM143.6 262.5h8v8h-8zM146 262h8v8h-8zM147.5 261.7h8v8h-8zM149 261.3h8v8h-8zM150.6 260.9h8v8h-8zM152.1 260.6h8v8h-8zM153.7 260.2h8v8h-8zM155.3 259.8h8v8h-8zM156.9 259.4h8v8h-8zM158.6 259h8v8h-8zM160.2 258.6h8v8h-8zM161.9 258.1h8v8h-8zM163.5 257.7h8v8h-8zM165.2 257.3h8v8h-8zM166.9 256.9h8v8h-8zM168.6 256.4h8v8h-8zM170.3 256h8v8h-8zM172 255.6h8v8h-8zM173.7 255.2h8v8h-8zM177.2 254.3h8v8h-8zM180.6 253.5h8v8h-8zM184.1 252.8h8v8h-8zM187.5 252h8v8h-8zM190.9 251.4h8v8h-8zM194.3 250.8h8v8h-8zM197.7 250.2h8v8h-8zM201 249.8h8v8h-8zM204.4 249.3h8v8h-8zM207.7 248.9h8v8h-8zM211.1 248.6h8v8h-8zM214.5 248.3h8v8h-8zM217.9 248h8v8h-8zM221.3 247.7h8v8h-8zM224.7 247.5h8v8h-8zM228.1 247.2h8v8h-8zM231.4 247h8v8h-8zM234.7 246.8h8v8h-8zM238 246.6h8v8h-8zM241.2 246.3h8v8h-8zM244.4 246.1h8v8h-8zM247.4 245.9h8v8h-8zM250.2 245.7h8v8h-8zM253 245.4h8v8h-8zM255.8 245.1h8v8h-8zM258.5 244.9h8v8h-8zM261.2 244.6h8v8h-8zM264 244.3h8v8h-8zM266.6 244.1h8v8h-8zM269.3 243.9h8v8h-8zM272 243.7h8v8h-8zM274.6 243.5h8v8h-8zM277.2 243.4h8v8h-8zM279.7 243.4h8v8h-8zM282.3 243.4h8v8h-8zM284.8 243.4h8v8h-8zM287.1 243.6h8v8h-8zM289.2 243.7h8v8h-8zM291.3 243.9h8v8h-8zM293.3 244.1h8v8h-8zM295.4 244.3h8v8h-8zM297.4 244.6h8v8h-8zM300.4 245.1h8v8h-8zM303.3 245.6h8v8h-8zM306.2 246.2h8v8h-8zM309.2 246.9h8v8h-8zM312.1 247.7h8v8h-8zM315 248.5h8v8h-8zM317 249.1h8v8h-8zM319.1 249.8h8v8h-8zM321.1 250.6h8v8h-8zM323.2 251.4h8v8h-8zM325.3 252.2h8v8h-8zM327.4 253.1h8v8h-8zM329.4 254h8v8h-8zM331.5 255h8v8h-8zM333.5 255.9h8v8h-8zM335.5 256.9h8v8h-8zM338.5 258.4h8v8h-8zM341.4 259.8h8v8h-8zM344.2 261.3h8v8h-8zM346.7 262.6h8v8h-8zM348.9 263.8h8v8h-8zM350.9 264.9h8v8h-8zM353.6 266.5h8v8h-8zM356.1 268.1h8v8h-8zM358.6 269.7h8v8h-8zM361.2 271.3h8v8h-8zM363.9 272.9h8v8h-8zM366.8 274.4h8v8h-8zM369.2 275.7h8v8h-8zM371.8 277h8v8h-8zM374.3 278.4h8v8h-8zM376.9 279.7h8v8h-8zM379.5 281h8v8h-8zM382.2 282.2h8v8h-8zM384.8 283.4h8v8h-8zM387.4 284.5h8v8h-8zM390.1 285.4h8v8h-8zM392.6 286.2h8v8h-8zM395 286.9h8v8h-8zM397.4 287.4h8v8h-8zM399.8 287.8h8v8h-8zM402.3 288.2h8v8h-8zM404.7 288.5h8v8h-8zM407.1 288.8h8v8h-8zM409.5 289h8v8h-8zM411.9 289.4h8v8h-8zM414.4 289.7h8v8h-8zM416.8 290.2h8v8h-8zM419.3 290.6h8v8h-8zM421.8 291.1h8v8h-8zM424.3 291.6h8v8h-8zM426.8 292.1h8v8h-8zM430.2 292.7h8v8h-8zM433.5 293.4h8v8h-8zM436.8 294.1h8v8h-8zM440.2 294.8h8v8h-8zM443.5 295.6h8v8h-8zM446.9 296.5h8v8h-8zM450.3 297.4h8v8h-8zM453.7 298.3h8v8h-8zM457 299.2h8v8h-8zM460.3 300h8v8h-8zM463.6 300.7h8v8h-8zM466.7 301.1h8v8h-8zM470.1 301.4h8v8h-8zM473.4 301.6h8v8h-8zM476.7 301.7h8v8h-8zM479.9 301.6h8v8h-8zM483.3 301.4h8v8h-8zM486.8 300.9h8v8h-8zM490.1 300.3h8v8h-8zM493.6 299.5h8v8h-8zM497.1 298.6h8v8h-8zM500.6 297.5h8v8h-8zM504.1 296.3h8v8h-8zM507.3 294.9h8v8h-8zM510.3 293.4h8v8h-8zM513.4 291.4h8v8h-8zM516.9 288.6h8v8h-8zM520.2 285.5h8v8h-8zM523.5 282h8v8h-8zM526.6 278.2h8v8h-8z" fill="none" stroke="#f0f000" stroke-width="1.1"/>
<path d="M57.4 372h10M62.4 367v10M57.4 345h10M62.4 340v10M57.4 318h10M62.4 313v10M57.4 285h10M62.4 280v10M57.5 256h10M62.5 251v10M57.6 226h10M62.6 221v10M57.9 195h10M62.9 190v10M58.4 165h10M63.4 160v10M59 140h10M64 135v10M59.8 118h10M64.8 113v10M60.3 110h10M65.3 105v10M61 113h10M66 108v10M61.5 117.9h10M66.5 112.9v10M61.8 124.4h10M66.8 119.4v10M62.1 130.8h10M67.1 125.8v10M62.4 137.4h10M67.4 132.4v10M62.8 143.5h10M67.8 138.5v10M63 150h10M68 145v10M62.9 156.8h10M67.9 151.8v10M62.8 163.6h10M67.8 158.6v10M63.1 169.9h10M68.1 164.9v10M63.3 176.3h10M68.3 171.3v10M63.8 179.2h10M68.8 174.2v10M64.5 175.6h10M69.5 170.6v10M65.2 172h10M70.2 167v10M66 169.3h10M71 164.3v10M66.7 166.9h10M71.7 161.9v10M67.5 164.5h10M72.5 159.5v10M68.3 162.3h10M73.3 157.3v10M69.2 160.2h10M74.2 155.2v10M70 158.3h10M75 153.3v10M70.8 156.8h10M75.8 151.8v10M71.7 155.3h10M76.7 150.3v10M72.6 153.8h10M77.6 148.8v10M73.4 152.6h10M78.4 147.6v10M74.2 151.5h10M79.2 146.5v10M75.1 150.6h10M80.1 145.6v10M75.9 149.9h10M80.9 144.9v10M76.8 149.3h10M81.8 144.3v10M77.7 148.7h10M82.7 143.7v10M78.6 148.2h10M83.6 143.2v10M79.4 147.8h10M84.4 142.8v10M80.2 147.5h10M85.2 142.5v10M81 147.2h10M86 142.2v10M81.8 147h10M86.8 142v10M82.7 147h10M87.7 142v10M83.6 147.2h10M88.6 142.2v10M84.4 147.6h10M89.4 142.6v10M85.3 148.2h10M90.3 143.2v10M86.1 148.9h10M91.1 143.9v10M86.9 149.9h10M91.9 144.9v10M87.7 151.4h10M92.7 146.4v10M88.4 154.2h10M93.4 149.2v10M89.2 157.8h10M94.2 152.8v10M89.9 161.5h10M94.9 156.5v10M90.6 165.3h10M95.6 160.3v10M91.2 169.5h10M96.2 164.5v10M91.9 173.4h10M96.9 168.4v10M92.6 176.9h10M97.6 171.9v10M93.3 180.4h10M98.3 175.4v10M94.2 183h10M99.2 178v10M95 185.4h10M100 180.4v10M95.8 187.3h10M100.8 182.3v10M96.7 188.3h10M101.7 183.3v10M97.6 188.7h10M102.6 183.7v10M98.5 188.6h10M103.5 183.6v10M99.5 188.3h10M104.5 183.3v10M100.7 187.9h10M105.7 182.9v10M102.1 187.3h10M107.1 182.3v10M103.3 186.9h10M108.3 181.9v10M104.7 186.3h10M109.7 181.3v10M106.2 185.7h10M111.2 180.7v10M107.7 185h10M112.7 180v10M109.3 184.3h10M114.3 179.3v10M110.6 183.7h10M115.6 178.7v10M111.9 183.2h10M116.9 178.2v10M113.2 182.8h10M118.2 177.8v10M114.5 182.4h10M119.5 177.4v10M116.2 182h10M121.2 177v10M118 181.7h10M123 176.7v10M119.2 181.5h10M124.2 176.5v10M120.5 181.3h10M125.5 176.3v10M121.8 181.2h10M126.8 176.2v10M123.1 181h10M128.1 176v10M124.4 180.9h10M129.4 175.9v10M125.8 180.8h10M130.8 175.8v10M127.1 180.8h10M132.1 175.8v10M128.5 180.7h10M133.5 175.7v10M129.9 180.7h10M134.9 175.7v10M131.4 180.7h10M136.4 175.7v10M132.8 180.7h10M137.8 175.7v10M134.3 180.8h10M139.3 175.8v10M135.9 180.9h10M140.9 175.9v10M137.7 181h10M142.7 176v10M139.6 181.3h10M144.6 176.3v10M141.4 181.6h10M146.4 176.6v10M143.3 181.9h10M148.3 176.9v10M145.2 182.3h10M150.2 177.3v10M147.2 182.7h10M152.2 177.7v10M149.1 183.2h10M154.1 178.2v10M151.1 183.6h10M156.1 178.6v10M153.2 184.1h10M158.2 179.1v10M155.2 184.5h10M160.2 179.5v10M157.3 184.9h10M162.3 179.9v10M159.5 185.3h10M164.5 180.3v10M161.7 185.6h10M166.7 180.6v10M163.9 185.9h10M168.9 180.9v10M166.5 186.1h10M171.5 181.1v10M169.5 186.4h10M174.5 181.4v10M172.7 186.5h10M177.7 181.5v10M176 186.7h10M181 181.7v10M179.4 186.8h10M184.4 181.8v10M182.9 186.8h10M187.9 181.8v10M186.4 186.9h10M191.4 181.9v10M190 186.9h10M195 181.9v10M193.5 186.9h10M198.5 181.9v10M197 186.9h10M202 181.9v10M200.5 186.9h10M205.5 181.9v10M203.9 186.9h10M208.9 181.9v10M207.3 186.8h10M212.3 181.8v10M210.5 186.8h10M215.5 181.8v10M213.5 186.8h10M218.5 181.8v10M216.1 186.8h10M221.1 181.8v10M218.3 186.8h10M223.3 181.8v10M220.4 186.8h10M225.4 181.8v10M222.4 186.9h10M227.4 181.9v10M225.4 186.9h10M230.4 181.9v10M228.3 187h10M233.3 182v10M231.2 187h10M236.2 182v10M234 187h10M239 182v10M236.9 186.9h10M241.9 181.9v10M239.9 186.8h10M244.9 181.8v10M241.9 186.7h10M246.9 181.7v10M243.9 186.5h10M248.9 181.5v10M246.3 186.3h10M251.3 181.3v10M248.8 186h10M253.8 181v10M251.4 185.6h10M256.4 180.6v10M254.1 185.2h10M259.1 180.2v10M256.8 184.7h10M261.8 179.7v10M259.5 184.2h10M264.5 179.2v10M262.3 183.7h10M267.3 178.7v10M265 183.2h10M270 178.2v10M267.8 182.6h10M272.8 177.6v10M270.5 182.1h10M275.5 177.1v10M273.2 181.5h10M278.2 176.5v10M275.9 181h10M280.9 176v10M278.6 180.4h10M283.6 175.4v10M281.2 180h10M286.2 175v10M283.8 179.5h10M288.8 174.5v10M286.1 179.1h10M291.1 174.1v10M288.2 178.8h10M293.2 173.8v10M290.3 178.5h10M295.3 173.5v10M292.3 178.2h10M297.3 173.2v10M294.3 178h10M299.3 173v10M296.3 177.7h10M301.3 172.7v10M299.3 177.4h10M304.3 172.4v10M302.3 177h10M307.3 172v10M305.2 176.6h10M310.2 171.6v10M308.1 176.1h10M313.1 171.1v10M311.1 175.6h10M316.1 170.6v10M314 175h10M319 170v10M316 174.6h10M321 169.6v10M318 174.1h10M323 169.1v10M320.1 173.5h10M325.1 168.5v10M322.2 173h10M327.2 168v10M324.2 172.4h10M329.2 167.4v10M326.3 171.7h10M331.3 166.7v10M328.4 171.1h10M333.4 166.1v10M330.4 170.4h10M335.4 165.4v10M332.4 169.8h10M337.4 164.8v10M334.5 169.1h10M339.5 164.1v10M337.4 168.1h10M342.4 163.1v10M340.4 167.2h10M345.4 162.2v10M343.2 166.3h10M348.2 161.3v10M345.7 165.6h10M350.7 160.6v10M347.9 165h10M352.9 160v10M350 164.5h10M355 159.5v10M352.1 164.1h10M357.1 159.1v10M354.8 163.5h10M359.8 158.5v10M357.4 162.9h10M362.4 157.9v10M360 162.2h10M365 157.2v10M362.5 161.3h10M367.5 156.3v10M365 160.3h10M370 155.3v10M367.4 159.1h10M372.4 154.1v10M369.8 157.7h10M374.8 152.7v10M372.1 156.2h10M377.1 151.2v10M374.4 154.6h10M379.4 149.6v10M377.1 152.6h10M382.1 147.6v10M379.4 150.6h10M384.4 145.6v10M381.7 148.2h10M386.7 143.2v10M383.9 145.1h10M388.9 140.1v10M386.3 140.3h10M391.3 135.3v10M388.4 132.1h10M393.4 127.1v10M390.5 124.5h10M395.5 119.5v10M392.8 121.3h10M397.8 116.3v10M395.4 120h10M400.4 115v10M398 119.3h10M403 114.3v10M400.6 118.9h10M405.6 113.9v10M403.1 118.9h10M408.1 113.9v10M405.6 119.1h10M410.6 114.1v10M408.2 119.7h10M413.2 114.7v10M410.7 121h10M415.7 116v10M413.2 123.4h10M418.2 118.4v10M415.7 124.9h10M420.7 119.9v10M418.2 128.6h10M423.2 123.6v10M419.7 144.7h10M424.7 139.7v10M421.6 158h10M426.6 153v10M422.8 176h10M427.8 171v10M425.1 184.3h10M430.1 179.3v10M427.6 189.2h10M432.6 184.2v10M430.3 193.4h10M435.3 188.4v10M433 197.2h10M438 192.2v10M435.7 200.5h10M440.7 195.5v10M438.5 203.6h10M443.5 198.6v10M441.2 206h10M446.2 201v10M444.1 208.2h10M449.1 203.2v10M446.8 210h10M451.8 205v10M449.8 212h10M454.8 207v10M452.5 214h10M457.5 209v10M455.4 216.5h10M460.4 211.5v10M458.2 219.3h10M463.2 214.3v10M460.9 221.9h10M465.9 216.9v10M463.8 224.9h10M468.8 219.9v10M466.8 228h10M471.8 223v10M469.6 230.7h10M474.6 225.7v10M472.4 232.9h10M477.4 227.9v10M475.5 235h10M480.5 230v10M478.6 237.1h10M483.6 232.1v10M481.7 239.1h10M486.7 234.1v10M484.6 241.1h10M489.6 236.1v10M487.8 243.2h10M492.8 238.2v10M491 245.3h10M496 240.3v10M494.2 247.4h10M499.2 242.4v10M497.4 249.8h10M502.4 244.8v10M500.7 252.3h10M505.7 247.3v10M503.9 254.7h10M508.9 249.7v10M507 257h10M512 252v10M510 258.9h10M515 253.9v10M513.3 260.9h10M518.3 255.9v10M516.7 262.8h10M521.7 257.8v10M520 264.7h10M525 259.7v10M523.4 266.5h10M528.4 261.5v10M526.6 268.3h10M531.6 263.3v10M57.4 378h10M62.4 373v10M58 375.1h10M63 370.1v10M58.4 371.7h10M63.4 366.7v10M58.7 367.6h10M63.7 362.6v10M58.9 363.5h10M63.9 358.5v10M59.1 359.5h10M64.1 354.5v10M59.3 355.6h10M64.3 350.6v10M59.4 351.6h10M64.4 346.6v10M59.6 347.3h10M64.6 342.3v10M59.9 343.4h10M64.9 338.4v10M60.2 339.4h10M65.2 334.4v10M60.5 335.7h10M65.5 330.7v10M60.9 332h10M65.9 327v10M61.3 328.4h10M66.3 323.4v10M61.7 324.7h10M66.7 319.7v10M62.1 321.2h10M67.1 316.2v10M62.6 318.1h10M67.6 313.1v10M63.3 315.3h10M68.3 310.3v10M64 312.7h10M69 307.7v10M64.7 310.6h10M69.7 305.6v10M65.4 308.7h10M70.4 303.7v10M66.2 306.7h10M71.2 301.7v10M67 305.1h10M72 300.1v10M67.8 303.6h10M72.8 298.6v10M68.6 302h10M73.6 297v10M69.5 300.6h10M74.5 295.6v10M70.4 299.2h10M75.4 294.2v10M71.1 298h10M76.1 293v10M72 296.8h10M77 291.8v10M72.8 295.7h10M77.8 290.7v10M73.6 294.7h10M78.6 289.7v10M74.4 293.7h10M79.4 288.7v10M75.3 292.7h10M80.3 287.7v10M76.2 291.8h10M81.2 286.8v10M76.9 291h10M81.9 286v10M77.8 290.2h10M82.8 285.2v10M78.6 289.4h10M83.6 284.4v10M79.5 288.7h10M84.5 283.7v10M80.4 288h10M85.4 283v10M81.3 287.3h10M86.3 282.3v10M82.2 286.6h10M87.2 281.6v10M83.1 286h10M88.1 281v10M84 285.4h10M89 280.4v10M84.9 284.8h10M89.9 279.8v10M85.9 284.3h10M90.9 279.3v10M86.8 283.7h10M91.8 278.7v10M87.7 283.1h10M92.7 278.1v10M88.7 282.5h10M93.7 277.5v10M89.7 281.9h10M94.7 276.9v10M90.5 281.4h10M95.5 276.4v10M91.3 281h10M96.3 276v10M92.2 280.5h10M97.2 275.5v10M93 280.1h10M98 275.1v10M93.9 279.6h10M98.9 274.6v10M94.8 279.2h10M99.8 274.2v10M95.7 278.7h10M100.7 273.7v10M96.6 278.3h10M101.6 273.3v10M97.6 277.9h10M102.6 272.9v10M98.6 277.5h10M103.6 272.5v10M99.6 277.1h10M104.6 272.1v10M101 276.6h10M106 271.6v10M102.4 276.2h10M107.4 271.2v10M103.8 275.8h10M108.8 270.8v10M105.2 275.4h10M110.2 270.4v10M106.7 275h10M111.7 270v10M108.3 274.6h10M113.3 269.6v10M109.6 274.3h10M114.6 269.3v10M111 274h10M116 269v10M112.4 273.7h10M117.4 268.7v10M114.1 273.3h10M119.1 268.3v10M115.9 272.8h10M120.9 267.8v10M117.8 272.4h10M122.8 267.4v10M119.7 271.9h10M124.7 266.9v10M121.8 271.4h10M126.8 266.4v10M123.9 270.9h10M128.9 265.9v10M126.1 270.4h10M131.1 265.4v10M128.4 269.9h10M133.4 264.9v10M130.7 269.3h10M135.7 264.3v10M133 268.8h10M138 263.8v10M135.4 268.2h10M140.4 263.2v10M137.8 267.7h10M142.8 262.7v10M140.2 267.1h10M145.2 262.1v10M142.6 266.6h10M147.6 261.6v10M145 266h10M150 261v10M146.5 265.6h10M151.5 260.6v10M148 265.3h10M153 260.3v10M149.6 264.9h10M154.6 259.9v10M151.1 264.5h10M156.1 259.5v10M152.7 264.1h10M157.7 259.1v10M154.3 263.7h10M159.3 258.7v10M155.9 263.3h10M160.9 258.3v10M157.6 262.9h10M162.6 257.9v10M159.2 262.5h10M164.2 257.5v10M160.9 262.1h10M165.9 257.1v10M162.5 261.6h10M167.5 256.6v10M164.2 261.2h10M169.2 256.2v10M165.9 260.8h10M170.9 255.8v10M167.6 260.4h10M172.6 255.4v10M169.3 260h10M174.3 255v10M171 259.5h10M176 254.5v10M172.7 259.1h10M177.7 254.1v10M176.2 258.3h10M181.2 253.3v10M179.6 257.5h10M184.6 252.5v10M183.1 256.8h10M188.1 251.8v10M186.5 256h10M191.5 251v10M189.9 255.4h10M194.9 250.4v10M193.3 254.8h10M198.3 249.8v10M196.7 254.2h10M201.7 249.2v10M200 253.8h10M205 248.8v10M203.4 253.3h10M208.4 248.3v10M206.7 252.9h10M211.7 247.9v10M210.1 252.6h10M215.1 247.6v10M213.5 252.3h10M218.5 247.3v10M216.9 252h10M221.9 247v10M220.3 251.7h10M225.3 246.7v10M223.7 251.5h10M228.7 246.5v10M227.1 251.2h10M232.1 246.2v10M230.4 251h10M235.4 246v10M233.7 250.8h10M238.7 245.8v10M237 250.6h10M242 245.6v10M240.2 250.3h10M245.2 245.3v10M243.4 250.1h10M248.4 245.1v10M246.4 249.9h10M251.4 244.9v10M249.2 249.7h10M254.2 244.7v10M252 249.4h10M257 244.4v10M254.8 249.1h10M259.8 244.1v10M257.5 248.9h10M262.5 243.9v10M260.2 248.6h10M265.2 243.6v10M263 248.3h10M268 243.3v10M265.6 248.1h10M270.6 243.1v10M268.3 247.9h10M273.3 242.9v10M271 247.7h10M276 242.7v10M273.6 247.5h10M278.6 242.5v10M276.2 247.4h10M281.2 242.4v10M278.7 247.4h10M283.7 242.4v10M281.3 247.4h10M286.3 242.4v10M283.8 247.4h10M288.8 242.4v10M286.1 247.6h10M291.1 242.6v10M288.2 247.7h10M293.2 242.7v10M290.3 247.9h10M295.3 242.9v10M292.3 248.1h10M297.3 243.1v10M294.4 248.3h10M299.4 243.3v10M296.4 248.6h10M301.4 243.6v10M299.4 249.1h10M304.4 244.1v10M302.3 249.6h10M307.3 244.6v10M305.2 250.2h10M310.2 245.2v10M308.2 250.9h10M313.2 245.9v10M311.1 251.7h10M316.1 246.7v10M314 252.5h10M319 247.5v10M316 253.1h10M321 248.1v10M318.1 253.8h10M323.1 248.8v10M320.1 254.6h10M325.1 249.6v10M322.2 255.4h10M327.2 250.4v10M324.3 256.2h10M329.3 251.2v10M326.4 257.1h10M331.4 252.1v10M328.4 258h10M333.4 253v10M330.5 259h10M335.5 254v10M332.5 259.9h10M337.5 254.9v10M334.5 260.9h10M339.5 255.9v10M337.5 262.4h10M342.5 257.4v10M340.4 263.8h10M345.4 258.8v10M343.2 265.3h10M348.2 260.3v10M345.7 266.6h10M350.7 261.6v10M347.9 267.7h10M352.9 262.7v10M349.9 268.9h10M354.9 263.9v10M352.6 270.5h10M357.6 265.5v10M355.1 272h10M360.1 267v10M357.7 273.6h10M362.7 268.6v10M360.2 275.2h10M365.2 270.2v10M362.9 276.8h10M367.9 271.8v10M365.8 278.5h10M370.8 273.5v10M368.3 279.9h10M373.3 274.9v10M370.8 281.4h10M375.8 276.4v10M373.3 283h10M378.3 278v10M375.9 284.5h10M380.9 279.5v10M378.5 286.1h10M383.5 281.1v10M381.1 287.6h10M386.1 282.6v10M383.8 289h10M388.8 284v10M386.4 290.2h10M391.4 285.2v10M389.1 291.4h10M394.1 286.4v10M391.6 292.3h10M396.6 287.3v10M394 292.9h10M399 287.9v10M396.4 293.5h10M401.4 288.5v10M398.8 293.9h10M403.8 288.9v10M401.2 294.3h10M406.2 289.3v10M403.7 294.6h10M408.7 289.6v10M406.1 294.8h10M411.1 289.8v10M408.5 295.1h10M413.5 290.1v10M410.9 295.4h10M415.9 290.4v10M413.4 295.7h10M418.4 290.7v10M415.8 296.2h10M420.8 291.2v10M418.3 296.6h10M423.3 291.6v10M420.8 297.1h10M425.8 292.1v10M423.3 297.6h10M428.3 292.6v10M425.8 298.1h10M430.8 293.1v10M429.1 298.8h10M434.1 293.8v10M432.5 299.5h10M437.5 294.5v10M435.8 300.2h10M440.8 295.2v10M439.2 300.8h10M444.2 295.8v10M442.5 301.5h10M447.5 296.5v10M445.9 302.3h10M450.9 297.3v10M449.3 303.2h10M454.3 298.2v10M452.7 304h10M457.7 299v10M456 304.7h10M461 299.7v10M459.3 305.4h10M464.3 300.4v10M462.6 305.8h10M467.6 300.8v10M465.7 306h10M470.7 301v10M469.1 306.1h10M474.1 301.1v10M472.4 305.9h10M477.4 300.9v10M475.7 305.6h10M480.7 300.6v10M478.9 305.1h10M483.9 300.1v10M482.3 304.5h10M487.3 299.5v10M485.8 303.8h10M490.8 298.8v10M489.1 303.1h10M494.1 298.1v10M492.6 302.3h10M497.6 297.3v10M496.1 301.4h10M501.1 296.4v10M499.6 300.3h10M504.6 295.3v10M503 299.1h10M508 294.1v10M506.3 297.8h10M511.3 292.8v10M509.3 296.4h10M514.3 291.4v10M512.4 294.5h10M517.4 289.5v10M515.9 291.9h10M520.9 286.9v10M519.2 289.1h10M524.2 284.1v10M522.5 285.8h10M527.5 280.8v10M525.5 282.4h10M530.5 277.4v10" fill="none" stroke="#00e8f0" stroke-width="1.1"/>
<path d="M58 378a4.5 4.5 0 1 0 9 0a4.5 4.5 0 1 0 -9 0M57.9 355a4.5 4.5 0 1 0 9 0a4.5 4.5 0 1 0 -9 0M57.9 331a4.5 4.5 0 1 0 9 0a4.5 4.5 0 1 0 -9 0M57.9 307a4.5 4.5 0 1 0 9 0a4.5 4.5 0 1 0 -9 0M57.9 279a4.5 4.5 0 1 0 9 0a4.5 4.5 0 1 0 -9 0M58 256a4.5 4.5 0 1 0 9 0a4.5 4.5 0 1 0 -9 0M58.1 219a4.5 4.5 0 1 0 9 0a4.5 4.5 0 1 0 -9 0M58.3 186a4.5 4.5 0 1 0 9 0a4.5 4.5 0 1 0 -9 0M59.1 152a4.5 4.5 0 1 0 9 0a4.5 4.5 0 1 0 -9 0M60.1 139a4.5 4.5 0 1 0 9 0a4.5 4.5 0 1 0 -9 0M60.8 126a4.5 4.5 0 1 0 9 0a4.5 4.5 0 1 0 -9 0M61.1 117a4.5 4.5 0 1 0 9 0a4.5 4.5 0 1 0 -9 0M61.5 106a4.5 4.5 0 1 0 9 0a4.5 4.5 0 1 0 -9 0M62 111.5a4.5 4.5 0 1 0 9 0a4.5 4.5 0 1 0 -9 0M62.3 117.8a4.5 4.5 0 1 0 9 0a4.5 4.5 0 1 0 -9 0M62.6 124.5a4.5 4.5 0 1 0 9 0a4.5 4.5 0 1 0 -9 0M62.7 131a4.5 4.5 0 1 0 9 0a4.5 4.5 0 1 0 -9 0M62.9 138a4.5 4.5 0 1 0 9 0a4.5 4.5 0 1 0 -9 0M63 145a4.5 4.5 0 1 0 9 0a4.5 4.5 0 1 0 -9 0M63 151.7a4.5 4.5 0 1 0 9 0a4.5 4.5 0 1 0 -9 0M63 158.5a4.5 4.5 0 1 0 9 0a4.5 4.5 0 1 0 -9 0M63 165.2a4.5 4.5 0 1 0 9 0a4.5 4.5 0 1 0 -9 0M63.2 172a4.5 4.5 0 1 0 9 0a4.5 4.5 0 1 0 -9 0M63.6 176.9a4.5 4.5 0 1 0 9 0a4.5 4.5 0 1 0 -9 0M64.3 173.5a4.5 4.5 0 1 0 9 0a4.5 4.5 0 1 0 -9 0M65 170a4.5 4.5 0 1 0 9 0a4.5 4.5 0 1 0 -9 0M65.7 167.3a4.5 4.5 0 1 0 9 0a4.5 4.5 0 1 0 -9 0M66.5 164.9a4.5 4.5 0 1 0 9 0a4.5 4.5 0 1 0 -9 0M67.3 162.5a4.5 4.5 0 1 0 9 0a4.5 4.5 0 1 0 -9 0M68.1 160.3a4.5 4.5 0 1 0 9 0a4.5 4.5 0 1 0 -9 0M68.9 158.1a4.5 4.5 0 1 0 9 0a4.5 4.5 0 1 0 -9 0M69.8 156.3a4.5 4.5 0 1 0 9 0a4.5 4.5 0 1 0 -9 0M70.6 154.8a4.5 4.5 0 1 0 9 0a4.5 4.5 0 1 0 -9 0M71.5 153.6a4.5 4.5 0 1 0 9 0a4.5 4.5 0 1 0 -9 0M72.3 152.6a4.5 4.5 0 1 0 9 0a4.5 4.5 0 1 0 -9 0M73.2 151.7a4.5 4.5 0 1 0 9 0a4.5 4.5 0 1 0 -9 0M74.1 150.8a4.5 4.5 0 1 0 9 0a4.5 4.5 0 1 0 -9 0M75 150a4.5 4.5 0 1 0 9 0a4.5 4.5 0 1 0 -9 0M75.8 149.2a4.5 4.5 0 1 0 9 0a4.5 4.5 0 1 0 -9 0M76.7 148.4a4.5 4.5 0 1 0 9 0a4.5 4.5 0 1 0 -9 0M77.6 147.6a4.5 4.5 0 1 0 9 0a4.5 4.5 0 1 0 -9 0M78.5 146.9a4.5 4.5 0 1 0 9 0a4.5 4.5 0 1 0 -9 0M79.4 146.3a4.5 4.5 0 1 0 9 0a4.5 4.5 0 1 0 -9 0M80.3 145.9a4.5 4.5 0 1 0 9 0a4.5 4.5 0 1 0 -9 0M81.1 145.5a4.5 4.5 0 1 0 9 0a4.5 4.5 0 1 0 -9 0M82 145.2a4.5 4.5 0 1 0 9 0a4.5 4.5 0 1 0 -9 0M82.8 145a4.5 4.5 0 1 0 9 0a4.5 4.5 0 1 0 -9 0M83.7 144.9a4.5 4.5 0 1 0 9 0a4.5 4.5 0 1 0 -9 0M84.5 145.3a4.5 4.5 0 1 0 9 0a4.5 4.5 0 1 0 -9 0M85.4 146.1a4.5 4.5 0 1 0 9 0a4.5 4.5 0 1 0 -9 0M86.2 147.5a4.5 4.5 0 1 0 9 0a4.5 4.5 0 1 0 -9 0M86.9 150.3a4.5 4.5 0 1 0 9 0a4.5 4.5 0 1 0 -9 0M87.6 154.5a4.5 4.5 0 1 0 9 0a4.5 4.5 0 1 0 -9 0M88.3 158.2a4.5 4.5 0 1 0 9 0a4.5 4.5 0 1 0 -9 0M89 162a4.5 4.5 0 1 0 9 0a4.5 4.5 0 1 0 -9 0M89.7 166.2a4.5 4.5 0 1 0 9 0a4.5 4.5 0 1 0 -9 0M90.3 170.1a4.5 4.5 0 1 0 9 0a4.5 4.5 0 1 0 -9 0M91 173.7a4.5 4.5 0 1 0 9 0a4.5 4.5 0 1 0 -9 0M91.7 177.1a4.5 4.5 0 1 0 9 0a4.5 4.5 0 1 0 -9 0M92.5 180a4.5 4.5 0 1 0 9 0a4.5 4.5 0 1 0 -9 0M93.3 182.7a4.5 4.5 0 1 0 9 0a4.5 4.5 0 1 0 -9 0M94.1 185.1a4.5 4.5 0 1 0 9 0a4.5 4.5 0 1 0 -9 0M94.9 186.5a4.5 4.5 0 1 0 9 0a4.5 4.5 0 1 0 -9 0M95.8 187.2a4.5 4.5 0 1 0 9 0a4.5 4.5 0 1 0 -9 0M96.7 187.4a4.5 4.5 0 1 0 9 0a4.5 4.5 0 1 0 -9 0M97.7 187.4a4.5 4.5 0 1 0 9 0a4.5 4.5 0 1 0 -9 0M98.6 187.3a4.5 4.5 0 1 0 9 0a4.5 4.5 0 1 0 -9 0M99.4 187.1a4.5 4.5 0 1 0 9 0a4.5 4.5 0 1 0 -9 0M100.3 186.9a4.5 4.5 0 1 0 9 0a4.5 4.5 0 1 0 -9 0M101.5 186.5a4.5 4.5 0 1 0 9 0a4.5 4.5 0 1 0 -9 0M102.7 185.9a4.5 4.5 0 1 0 9 0a4.5 4.5 0 1 0 -9 0M104.1 184.9a4.5 4.5 0 1 0 9 0a4.5 4.5 0 1 0 -9 0M105.4 183.7a4.5 4.5 0 1 0 9 0a4.5 4.5 0 1 0 -9 0M106.6 182.9a4.5 4.5 0 1 0 9 0a4.5 4.5 0 1 0 -9 0M108 182.3a4.5 4.5 0 1 0 9 0a4.5 4.5 0 1 0 -9 0M109.4 182a4.5 4.5 0 1 0 9 0a4.5 4.5 0 1 0 -9 0M110.7 181.8a4.5 4.5 0 1 0 9 0a4.5 4.5 0 1 0 -9 0M112 181.7a4.5 4.5 0 1 0 9 0a4.5 4.5 0 1 0 -9 0M113.3 181.7a4.5 4.5 0 1 0 9 0a4.5 4.5 0 1 0 -9 0M114.9 181.6a4.5 4.5 0 1 0 9 0a4.5 4.5 0 1 0 -9 0M116.6 181.4a4.5 4.5 0 1 0 9 0a4.5 4.5 0 1 0 -9 0M118.3 181.2a4.5 4.5 0 1 0 9 0a4.5 4.5 0 1 0 -9 0M119.5 181a4.5 4.5 0 1 0 9 0a4.5 4.5 0 1 0 -9 0M120.7 180.9a4.5 4.5 0 1 0 9 0a4.5 4.5 0 1 0 -9 0M122 180.7a4.5 4.5 0 1 0 9 0a4.5 4.5 0 1 0 -9 0M123.3 180.6a4.5 4.5 0 1 0 9 0a4.5 4.5 0 1 0 -9 0M124.7 180.4a4.5 4.5 0 1 0 9 0a4.5 4.5 0 1 0 -9 0M126.1 180.3a4.5 4.5 0 1 0 9 0a4.5 4.5 0 1 0 -9 0M127.5 180.2a4.5 4.5 0 1 0 9 0a4.5 4.5 0 1 0 -9 0M128.9 180.1a4.5 4.5 0 1 0 9 0a4.5 4.5 0 1 0 -9 0M130.4 180a4.5 4.5 0 1 0 9 0a4.5 4.5 0 1 0 -9 0M131.8 180a4.5 4.5 0 1 0 9 0a4.5 4.5 0 1 0 -9 0M133.3 179.9a4.5 4.5 0 1 0 9 0a4.5 4.5 0 1 0 -9 0M134.8 180a4.5 4.5 0 1 0 9 0a4.5 4.5 0 1 0 -9 0M136.4 180.1a4.5 4.5 0 1 0 9 0a4.5 4.5 0 1 0 -9 0M138.2 180.2a4.5 4.5 0 1 0 9 0a4.5 4.5 0 1 0 -9 0M140.1 180.5a4.5 4.5 0 1 0 9 0a4.5 4.5 0 1 0 -9 0M141.9 180.8a4.5 4.5 0 1 0 9 0a4.5 4.5 0 1 0 -9 0M143.8 181.1a4.5 4.5 0 1 0 9 0a4.5 4.5 0 1 0 -9 0M145.7 181.5a4.5 4.5 0 1 0 9 0a4.5 4.5 0 1 0 -9 0M147.7 181.9a4.5 4.5 0 1 0 9 0a4.5 4.5 0 1 0 -9 0M149.6 182.4a4.5 4.5 0 1 0 9 0a4.5 4.5 0 1 0 -9 0M151.6 182.8a4.5 4.5 0 1 0 9 0a4.5 4.5 0 1 0 -9 0M153.7 183.3a4.5 4.5 0 1 0 9 0a4.5 4.5 0 1 0 -9 0M155.7 183.7a4.5 4.5 0 1 0 9 0a4.5 4.5 0 1 0 -9 0M157.8 184.1a4.5 4.5 0 1 0 9 0a4.5 4.5 0 1 0 -9 0M160 184.5a4.5 4.5 0 1 0 9 0a4.5 4.5 0 1 0 -9 0M162.2 184.8a4.5 4.5 0 1 0 9 0a4.5 4.5 0 1 0 -9 0M164.4 185.1a4.5 4.5 0 1 0 9 0a4.5 4.5 0 1 0 -9 0M167 185.3a4.5 4.5 0 1 0 9 0a4.5 4.5 0 1 0 -9 0M170 185.6a4.5 4.5 0 1 0 9 0a4.5 4.5 0 1 0 -9 0M173.2 185.7a4.5 4.5 0 1 0 9 0a4.5 4.5 0 1 0 -9 0M176.5 185.9a4.5 4.5 0 1 0 9 0a4.5 4.5 0 1 0 -9 0M179.9 186a4.5 4.5 0 1 0 9 0a4.5 4.5 0 1 0 -9 0M183.4 186a4.5 4.5 0 1 0 9 0a4.5 4.5 0 1 0 -9 0M186.9 186.1a4.5 4.5 0 1 0 9 0a4.5 4.5 0 1 0 -9 0M190.5 186.1a4.5 4.5 0 1 0 9 0a4.5 4.5 0 1 0 -9 0M194 186.1a4.5 4.5 0 1 0 9 0a4.5 4.5 0 1 0 -9 0M197.5 186.1a4.5 4.5 0 1 0 9 0a4.5 4.5 0 1 0 -9 0M201 186.1a4.5 4.5 0 1 0 9 0a4.5 4.5 0 1 0 -9 0M204.4 186.1a4.5 4.5 0 1 0 9 0a4.5 4.5 0 1 0 -9 0M207.8 186a4.5 4.5 0 1 0 9 0a4.5 4.5 0 1 0 -9 0M211 186a4.5 4.5 0 1 0 9 0a4.5 4.5 0 1 0 -9 0M214 186a4.5 4.5 0 1 0 9 0a4.5 4.5 0 1 0 -9 0M216.6 186a4.5 4.5 0 1 0 9 0a4.5 4.5 0 1 0 -9 0M218.8 186a4.5 4.5 0 1 0 9 0a4.5 4.5 0 1 0 -9 0M220.9 186a4.5 4.5 0 1 0 9 0a4.5 4.5 0 1 0 -9 0M222.9 186.1a4.5 4.5 0 1 0 9 0a4.5 4.5 0 1 0 -9 0M225.9 186.1a4.5 4.5 0 1 0 9 0a4.5 4.5 0 1 0 -9 0M228.8 186.2a4.5 4.5 0 1 0 9 0a4.5 4.5 0 1 0 -9 0M231.7 186.2a4.5 4.5 0 1 0 9 0a4.5 4.5 0 1 0 -9 0M234.5 186.2a4.5 4.5 0 1 0 9 0a4.5 4.5 0 1 0 -9 0M237.4 186.1a4.5 4.5 0 1 0 9 0a4.5 4.5 0 1 0 -9 0M240.4 186a4.5 4.5 0 1 0 9 0a4.5 4.5 0 1 0 -9 0M242.4 185.9a4.5 4.5 0 1 0 9 0a4.5 4.5 0 1 0 -9 0M244.4 185.7a4.5 4.5 0 1 0 9 0a4.5 4.5 0 1 0 -9 0M246.8 185.5a4.5 4.5 0 1 0 9 0a4.5 4.5 0 1 0 -9 0M249.3 185.2a4.5 4.5 0 1 0 9 0a4.5 4.5 0 1 0 -9 0M251.9 184.8a4.5 4.5 0 1 0 9 0a4.5 4.5 0 1 0 -9 0M254.6 184.4a4.5 4.5 0 1 0 9 0a4.5 4.5 0 1 0 -9 0M257.3 183.9a4.5 4.5 0 1 0 9 0a4.5 4.5 0 1 0 -9 0M260 183.4a4.5 4.5 0 1 0 9 0a4.5 4.5 0 1 0 -9 0M262.8 182.9a4.5 4.5 0 1 0 9 0a4.5 4.5 0 1 0 -9 0M265.5 182.4a4.5 4.5 0 1 0 9 0a4.5 4.5 0 1 0 -9 0M268.3 181.8a4.5 4.5 0 1 0 9 0a4.5 4.5 0 1 0 -9 0M271 181.3a4.5 4.5 0 1 0 9 0a4.5 4.5 0 1 0 -9 0M273.7 180.7a4.5 4.5 0 1 0 9 0a4.5 4.5 0 1 0 -9 0M276.4 180.2a4.5 4.5 0 1 0 9 0a4.5 4.5 0 1 0 -9 0M279.1 179.6a4.5 4.5 0 1 0 9 0a4.5 4.5 0 1 0 -9 0M281.7 179.2a4.5 4.5 0 1 0 9 0a4.5 4.5 0 1 0 -9 0M284.3 178.7a4.5 4.5 0 1 0 9 0a4.5 4.5 0 1 0 -9 0M286.6 178.3a4.5 4.5 0 1 0 9 0a4.5 4.5 0 1 0 -9 0M288.7 178a4.5 4.5 0 1 0 9 0a4.5 4.5 0 1 0 -9 0M290.8 177.7a4.5 4.5 0 1 0 9 0a4.5 4.5 0 1 0 -9 0M292.8 177.4a4.5 4.5 0 1 0 9 0a4.5 4.5 0 1 0 -9 0M294.8 177.2a4.5 4.5 0 1 0 9 0a4.5 4.5 0 1 0 -9 0M296.8 176.9a4.5 4.5 0 1 0 9 0a4.5 4.5 0 1 0 -9 0M299.8 176.6a4.5 4.5 0 1 0 9 0a4.5 4.5 0 1 0 -9 0M302.8 176.2a4.5 4.5 0 1 0 9 0a4.5 4.5 0 1 0 -9 0M305.7 175.8a4.5 4.5 0 1 0 9 0a4.5 4.5 0 1 0 -9 0M308.6 175.3a4.5 4.5 0 1 0 9 0a4.5 4.5 0 1 0 -9 0M311.6 174.8a4.5 4.5 0 1 0 9 0a4.5 4.5 0 1 0 -9 0M314.5 174.2a4.5 4.5 0 1 0 9 0a4.5 4.5 0 1 0 -9 0M316.5 173.8a4.5 4.5 0 1 0 9 0a4.5 4.5 0 1 0 -9 0M318.5 173.3a4.5 4.5 0 1 0 9 0a4.5 4.5 0 1 0 -9 0M320.6 172.7a4.5 4.5 0 1 0 9 0a4.5 4.5 0 1 0 -9 0M322.7 172.2a4.5 4.5 0 1 0 9 0a4.5 4.5 0 1 0 -9 0M324.7 171.6a4.5 4.5 0 1 0 9 0a4.5 4.5 0 1 0 -9 0M326.8 170.9a4.5 4.5 0 1 0 9 0a4.5 4.5 0 1 0 -9 0M328.9 170.3a4.5 4.5 0 1 0 9 0a4.5 4.5 0 1 0 -9 0M330.9 169.6a4.5 4.5 0 1 0 9 0a4.5 4.5 0 1 0 -9 0M332.9 169a4.5 4.5 0 1 0 9 0a4.5 4.5 0 1 0 -9 0M335 168.3a4.5 4.5 0 1 0 9 0a4.5 4.5 0 1 0 -9 0M337.9 167.3a4.5 4.5 0 1 0 9 0a4.5 4.5 0 1 0 -9 0M340.9 166.4a4.5 4.5 0 1 0 9 0a4.5 4.5 0 1 0 -9 0M343.7 165.5a4.5 4.5 0 1 0 9 0a4.5 4.5 0 1 0 -9 0M346.2 164.8a4.5 4.5 0 1 0 9 0a4.5 4.5 0 1 0 -9 0M348.4 164.2a4.5 4.5 0 1 0 9 0a4.5 4.5 0 1 0 -9 0M350.6 163.6a4.5 4.5 0 1 0 9 0a4.5 4.5 0 1 0 -9 0M352.7 163.1a4.5 4.5 0 1 0 9 0a4.5 4.5 0 1 0 -9 0M354.8 162.5a4.5 4.5 0 1 0 9 0a4.5 4.5 0 1 0 -9 0M357.5 161.9a4.5 4.5 0 1 0 9 0a4.5 4.5 0 1 0 -9 0M360.2 161.2a4.5 4.5 0 1 0 9 0a4.5 4.5 0 1 0 -9 0M362.6 160.4a4.5 4.5 0 1 0 9 0a4.5 4.5 0 1 0 -9 0M364.9 159.7a4.5 4.5 0 1 0 9 0a4.5 4.5 0 1 0 -9 0M367.4 158.8a4.5 4.5 0 1 0 9 0a4.5 4.5 0 1 0 -9 0M369.6 158a4.5 4.5 0 1 0 9 0a4.5 4.5 0 1 0 -9 0M372 157.1a4.5 4.5 0 1 0 9 0a4.5 4.5 0 1 0 -9 0M374.4 155.8a4.5 4.5 0 1 0 9 0a4.5 4.5 0 1 0 -9 0M376.7 153.8a4.5 4.5 0 1 0 9 0a4.5 4.5 0 1 0 -9 0M378.9 150.7a4.5 4.5 0 1 0 9 0a4.5 4.5 0 1 0 -9 0M381.1 147.4a4.5 4.5 0 1 0 9 0a4.5 4.5 0 1 0 -9 0M383.5 145.6a4.5 4.5 0 1 0 9 0a4.5 4.5 0 1 0 -9 0M385.8 144a4.5 4.5 0 1 0 9 0a4.5 4.5 0 1 0 -9 0M387.7 135.3a4.5 4.5 0 1 0 9 0a4.5 4.5 0 1 0 -9 0M389.8 126.1a4.5 4.5 0 1 0 9 0a4.5 4.5 0 1 0 -9 0M392 121.5a4.5 4.5 0 1 0 9 0a4.5 4.5 0 1 0 -9 0M394.5 120.4a4.5 4.5 0 1 0 9 0a4.5 4.5 0 1 0 -9 0M396.9 119.5a4.5 4.5 0 1 0 9 0a4.5 4.5 0 1 0 -9 0M399.3 118.8a4.5 4.5 0 1 0 9 0a4.5 4.5 0 1 0 -9 0M401.7 118.1a4.5 4.5 0 1 0 9 0a4.5 4.5 0 1 0 -9 0M404.2 117.3a4.5 4.5 0 1 0 9 0a4.5 4.5 0 1 0 -9 0M406.6 116.7a4.5 4.5 0 1 0 9 0a4.5 4.5 0 1 0 -9 0M409.1 116.3a4.5 4.5 0 1 0 9 0a4.5 4.5 0 1 0 -9 0M411.5 117.1a4.5 4.5 0 1 0 9 0a4.5 4.5 0 1 0 -9 0M413.8 123.5a4.5 4.5 0 1 0 9 0a4.5 4.5 0 1 0 -9 0M415.4 138.5a4.5 4.5 0 1 0 9 0a4.5 4.5 0 1 0 -9 0M417.1 153.6a4.5 4.5 0 1 0 9 0a4.5 4.5 0 1 0 -9 0M419 166.5a4.5 4.5 0 1 0 9 0a4.5 4.5 0 1 0 -9 0M421 179.3a4.5 4.5 0 1 0 9 0a4.5 4.5 0 1 0 -9 0M423.4 187.3a4.5 4.5 0 1 0 9 0a4.5 4.5 0 1 0 -9 0M425.9 190.8a4.5 4.5 0 1 0 9 0a4.5 4.5 0 1 0 -9 0M428.5 193.4a4.5 4.5 0 1 0 9 0a4.5 4.5 0 1 0 -9 0M431.1 195.7a4.5 4.5 0 1 0 9 0a4.5 4.5 0 1 0 -9 0M433.7 197.5a4.5 4.5 0 1 0 9 0a4.5 4.5 0 1 0 -9 0M436.4 198.9a4.5 4.5 0 1 0 9 0a4.5 4.5 0 1 0 -9 0M439.1 199.9a4.5 4.5 0 1 0 9 0a4.5 4.5 0 1 0 -9 0M441.9 200.7a4.5 4.5 0 1 0 9 0a4.5 4.5 0 1 0 -9 0M444.7 201.8a4.5 4.5 0 1 0 9 0a4.5 4.5 0 1 0 -9 0M447.3 202.8a4.5 4.5 0 1 0 9 0a4.5 4.5 0 1 0 -9 0M450 203.9a4.5 4.5 0 1 0 9 0a4.5 4.5 0 1 0 -9 0M452.7 205a4.5 4.5 0 1 0 9 0a4.5 4.5 0 1 0 -9 0M455.5 206.2a4.5 4.5 0 1 0 9 0a4.5 4.5 0 1 0 -9 0M458.3 207.3a4.5 4.5 0 1 0 9 0a4.5 4.5 0 1 0 -9 0M461 208.5a4.5 4.5 0 1 0 9 0a4.5 4.5 0 1 0 -9 0M463.9 210.9a4.5 4.5 0 1 0 9 0a4.5 4.5 0 1 0 -9 0M466.8 215.3a4.5 4.5 0 1 0 9 0a4.5 4.5 0 1 0 -9 0M469.5 219.2a4.5 4.5 0 1 0 9 0a4.5 4.5 0 1 0 -9 0M472.5 222.6a4.5 4.5 0 1 0 9 0a4.5 4.5 0 1 0 -9 0M475.2 225.8a4.5 4.5 0 1 0 9 0a4.5 4.5 0 1 0 -9 0M478 228.8a4.5 4.5 0 1 0 9 0a4.5 4.5 0 1 0 -9 0M481 232a4.5 4.5 0 1 0 9 0a4.5 4.5 0 1 0 -9 0M484 235a4.5 4.5 0 1 0 9 0a4.5 4.5 0 1 0 -9 0M487 238a4.5 4.5 0 1 0 9 0a4.5 4.5 0 1 0 -9 0M490 240.9a4.5 4.5 0 1 0 9 0a4.5 4.5 0 1 0 -9 0M493.1 243.8a4.5 4.5 0 1 0 9 0a4.5 4.5 0 1 0 -9 0M496.3 246.7a4.5 4.5 0 1 0 9 0a4.5 4.5 0 1 0 -9 0M499.5 249.6a4.5 4.5 0 1 0 9 0a4.5 4.5 0 1 0 -9 0M502.9 252.5a4.5 4.5 0 1 0 9 0a4.5 4.5 0 1 0 -9 0M506.3 255.4a4.5 4.5 0 1 0 9 0a4.5 4.5 0 1 0 -9 0M509.5 258a4.5 4.5 0 1 0 9 0a4.5 4.5 0 1 0 -9 0M512.6 260.3a4.5 4.5 0 1 0 9 0a4.5 4.5 0 1 0 -9 0M515.9 262.7a4.5 4.5 0 1 0 9 0a4.5 4.5 0 1 0 -9 0M519.2 264.8a4.5 4.5 0 1 0 9 0a4.5 4.5 0 1 0 -9 0M522.4 266.7a4.5 4.5 0 1 0 9 0a4.5 4.5 0 1 0 -9 0M525.5 268.4a4.5 4.5 0 1 0 9 0a4.5 4.5 0 1 0 -9 0M58 378a4.5 4.5 0 1 0 9 0a4.5 4.5 0 1 0 -9 0M58.5 375.3a4.5 4.5 0 1 0 9 0a4.5 4.5 0 1 0 -9 0M58.9 372.4a4.5 4.5 0 1 0 9 0a4.5 4.5 0 1 0 -9 0M59.1 369.4a4.5 4.5 0 1 0 9 0a4.5 4.5 0 1 0 -9 0M59.3 365.8a4.5 4.5 0 1 0 9 0a4.5 4.5 0 1 0 -9 0M59.4 362.6a4.5 4.5 0 1 0 9 0a4.5 4.5 0 1 0 -9 0M59.6 359.1a4.5 4.5 0 1 0 9 0a4.5 4.5 0 1 0 -9 0M59.7 355.6a4.5 4.5 0 1 0 9 0a4.5 4.5 0 1 0 -9 0M59.9 352a4.5 4.5 0 1 0 9 0a4.5 4.5 0 1 0 -9 0M60 348.6a4.5 4.5 0 1 0 9 0a4.5 4.5 0 1 0 -9 0M60.2 345.2a4.5 4.5 0 1 0 9 0a4.5 4.5 0 1 0 -9 0M60.4 341.7a4.5 4.5 0 1 0 9 0a4.5 4.5 0 1 0 -9 0M60.7 338.4a4.5 4.5 0 1 0 9 0a4.5 4.5 0 1 0 -9 0M61 335.2a4.5 4.5 0 1 0 9 0a4.5 4.5 0 1 0 -9 0M61.3 332a4.5 4.5 0 1 0 9 0a4.5 4.5 0 1 0 -9 0M61.6 329a4.5 4.5 0 1 0 9 0a4.5 4.5 0 1 0 -9 0M62 325.7a4.5 4.5 0 1 0 9 0a4.5 4.5 0 1 0 -9 0M62.3 322.5a4.5 4.5 0 1 0 9 0a4.5 4.5 0 1 0 -9 0M62.7 319.4a4.5 4.5 0 1 0 9 0a4.5 4.5 0 1 0 -9 0M63.3 316.8a4.5 4.5 0 1 0 9 0a4.5 4.5 0 1 0 -9 0M63.9 314.6a4.5 4.5 0 1 0 9 0a4.5 4.5 0 1 0 -9 0M64.5 312.4a4.5 4.5 0 1 0 9 0a4.5 4.5 0 1 0 -9 0M65.2 310.3a4.5 4.5 0 1 0 9 0a4.5 4.5 0 1 0 -9 0M65.9 308.4a4.5 4.5 0 1 0 9 0a4.5 4.5 0 1 0 -9 0M66.7 306.7a4.5 4.5 0 1 0 9 0a4.5 4.5 0 1 0 -9 0M67.4 305.1a4.5 4.5 0 1 0 9 0a4.5 4.5 0 1 0 -9 0M68.2 303.5a4.5 4.5 0 1 0 9 0a4.5 4.5 0 1 0 -9 0M69 302a4.5 4.5 0 1 0 9 0a4.5 4.5 0 1 0 -9 0M69.9 300.5a4.5 4.5 0 1 0 9 0a4.5 4.5 0 1 0 -9 0M70.6 299.3a4.5 4.5 0 1 0 9 0a4.5 4.5 0 1 0 -9 0M71.4 298.1a4.5 4.5 0 1 0 9 0a4.5 4.5 0 1 0 -9 0M72.2 297a4.5 4.5 0 1 0 9 0a4.5 4.5 0 1 0 -9 0M73.1 295.9a4.5 4.5 0 1 0 9 0a4.5 4.5 0 1 0 -9 0M73.9 294.8a4.5 4.5 0 1 0 9 0a4.5 4.5 0 1 0 -9 0M74.7 293.8a4.5 4.5 0 1 0 9 0a4.5 4.5 0 1 0 -9 0M75.5 292.8a4.5 4.5 0 1 0 9 0a4.5 4.5 0 1 0 -9 0M76.4 291.8a4.5 4.5 0 1 0 9 0a4.5 4.5 0 1 0 -9 0M77.2 291.1a4.5 4.5 0 1 0 9 0a4.5 4.5 0 1 0 -9 0M78 290.3a4.5 4.5 0 1 0 9 0a4.5 4.5 0 1 0 -9 0M78.9 289.5a4.5 4.5 0 1 0 9 0a4.5 4.5 0 1 0 -9 0M79.8 288.8a4.5 4.5 0 1 0 9 0a4.5 4.5 0 1 0 -9 0M80.7 288a4.5 4.5 0 1 0 9 0a4.5 4.5 0 1 0 -9 0M81.6 287.3a4.5 4.5 0 1 0 9 0a4.5 4.5 0 1 0 -9 0M82.5 286.7a4.5 4.5 0 1 0 9 0a4.5 4.5 0 1 0 -9 0M83.4 286a4.5 4.5 0 1 0 9 0a4.5 4.5 0 1 0 -9 0M84.3 285.4a4.5 4.5 0 1 0 9 0a4.5 4.5 0 1 0 -9 0M85.2 284.9a4.5 4.5 0 1 0 9 0a4.5 4.5 0 1 0 -9 0M86.1 284.3a4.5 4.5 0 1 0 9 0a4.5 4.5 0 1 0 -9 0M87 283.7a4.5 4.5 0 1 0 9 0a4.5 4.5 0 1 0 -9 0M88 283.1a4.5 4.5 0 1 0 9 0a4.5 4.5 0 1 0 -9 0M89 282.5a4.5 4.5 0 1 0 9 0a4.5 4.5 0 1 0 -9 0M89.8 282.1a4.5 4.5 0 1 0 9 0a4.5 4.5 0 1 0 -9 0M90.6 281.6a4.5 4.5 0 1 0 9 0a4.5 4.5 0 1 0 -9 0M91.4 281.1a4.5 4.5 0 1 0 9 0a4.5 4.5 0 1 0 -9 0M92.2 280.7a4.5 4.5 0 1 0 9 0a4.5 4.5 0 1 0 -9 0M93 280.2a4.5 4.5 0 1 0 9 0a4.5 4.5 0 1 0 -9 0M93.9 279.8a4.5 4.5 0 1 0 9 0a4.5 4.5 0 1 0 -9 0M94.8 279.3a4.5 4.5 0 1 0 9 0a4.5 4.5 0 1 0 -9 0M95.7 278.9a4.5 4.5 0 1 0 9 0a4.5 4.5 0 1 0 -9 0M96.6 278.4a4.5 4.5 0 1 0 9 0a4.5 4.5 0 1 0 -9 0M97.6 278a4.5 4.5 0 1 0 9 0a4.5 4.5 0 1 0 -9 0M98.5 277.6a4.5 4.5 0 1 0 9 0a4.5 4.5 0 1 0 -9 0M99.5 277.2a4.5 4.5 0 1 0 9 0a4.5 4.5 0 1 0 -9 0M100.9 276.7a4.5 4.5 0 1 0 9 0a4.5 4.5 0 1 0 -9 0M102.2 276.3a4.5 4.5 0 1 0 9 0a4.5 4.5 0 1 0 -9 0M103.5 275.9a4.5 4.5 0 1 0 9 0a4.5 4.5 0 1 0 -9 0M105 275.5a4.5 4.5 0 1 0 9 0a4.5 4.5 0 1 0 -9 0M106.4 275.1a4.5 4.5 0 1 0 9 0a4.5 4.5 0 1 0 -9 0M108 274.7a4.5 4.5 0 1 0 9 0a4.5 4.5 0 1 0 -9 0M109.2 274.4a4.5 4.5 0 1 0 9 0a4.5 4.5 0 1 0 -9 0M110.5 274.1a4.5 4.5 0 1 0 9 0a4.5 4.5 0 1 0 -9 0M111.9 273.8a4.5 4.5 0 1 0 9 0a4.5 4.5 0 1 0 -9 0M113.7 273.4a4.5 4.5 0 1 0 9 0a4.5 4.5 0 1 0 -9 0M115.4 273a4.5 4.5 0 1 0 9 0a4.5 4.5 0 1 0 -9 0M117.3 272.6a4.5 4.5 0 1 0 9 0a4.5 4.5 0 1 0 -9 0M119.2 272.2a4.5 4.5 0 1 0 9 0a4.5 4.5 0 1 0 -9 0M121.2 271.8a4.5 4.5 0 1 0 9 0a4.5 4.5 0 1 0 -9 0M123.3 271.4a4.5 4.5 0 1 0 9 0a4.5 4.5 0 1 0 -9 0M125.5 271a4.5 4.5 0 1 0 9 0a4.5 4.5 0 1 0 -9 0M127.7 270.6a4.5 4.5 0 1 0 9 0a4.5 4.5 0 1 0 -9 0M130 270.1a4.5 4.5 0 1 0 9 0a4.5 4.5 0 1 0 -9 0M132.3 269.7a4.5 4.5 0 1 0 9 0a4.5 4.5 0 1 0 -9 0M134.7 269.2a4.5 4.5 0 1 0 9 0a4.5 4.5 0 1 0 -9 0M137.1 268.7a4.5 4.5 0 1 0 9 0a4.5 4.5 0 1 0 -9 0M139.5 268.3a4.5 4.5 0 1 0 9 0a4.5 4.5 0 1 0 -9 0M141.9 267.8a4.5 4.5 0 1 0 9 0a4.5 4.5 0 1 0 -9 0M144.3 267.3a4.5 4.5 0 1 0 9 0a4.5 4.5 0 1 0 -9 0M147 266.7a4.5 4.5 0 1 0 9 0a4.5 4.5 0 1 0 -9 0M148.5 266.3a4.5 4.5 0 1 0 9 0a4.5 4.5 0 1 0 -9 0M150.1 266a4.5 4.5 0 1 0 9 0a4.5 4.5 0 1 0 -9 0M151.6 265.6a4.5 4.5 0 1 0 9 0a4.5 4.5 0 1 0 -9 0M153.2 265.2a4.5 4.5 0 1 0 9 0a4.5 4.5 0 1 0 -9 0M154.8 264.8a4.5 4.5 0 1 0 9 0a4.5 4.5 0 1 0 -9 0M156.4 264.4a4.5 4.5 0 1 0 9 0a4.5 4.5 0 1 0 -9 0M158.1 264a4.5 4.5 0 1 0 9 0a4.5 4.5 0 1 0 -9 0M159.7 263.6a4.5 4.5 0 1 0 9 0a4.5 4.5 0 1 0 -9 0M161.4 263.2a4.5 4.5 0 1 0 9 0a4.5 4.5 0 1 0 -9 0M163 262.8a4.5 4.5 0 1 0 9 0a4.5 4.5 0 1 0 -9 0M164.7 262.3a4.5 4.5 0 1 0 9 0a4.5 4.5 0 1 0 -9 0M166.4 261.9a4.5 4.5 0 1 0 9 0a4.5 4.5 0 1 0 -9 0M168.1 261.5a4.5 4.5 0 1 0 9 0a4.5 4.5 0 1 0 -9 0M169.8 261a4.5 4.5 0 1 0 9 0a4.5 4.5 0 1 0 -9 0M171.5 260.6a4.5 4.5 0 1 0 9 0a4.5 4.5 0 1 0 -9 0M173.2 260.2a4.5 4.5 0 1 0 9 0a4.5 4.5 0 1 0 -9 0M176.7 259.4a4.5 4.5 0 1 0 9 0a4.5 4.5 0 1 0 -9 0M180.1 258.6a4.5 4.5 0 1 0 9 0a4.5 4.5 0 1 0 -9 0M183.6 257.8a4.5 4.5 0 1 0 9 0a4.5 4.5 0 1 0 -9 0M187 257.1a4.5 4.5 0 1 0 9 0a4.5 4.5 0 1 0 -9 0M190.4 256.4a4.5 4.5 0 1 0 9 0a4.5 4.5 0 1 0 -9 0M193.8 255.8a4.5 4.5 0 1 0 9 0a4.5 4.5 0 1 0 -9 0M197.2 255.2a4.5 4.5 0 1 0 9 0a4.5 4.5 0 1 0 -9 0M200.5 254.8a4.5 4.5 0 1 0 9 0a4.5 4.5 0 1 0 -9 0M203.9 254.3a4.5 4.5 0 1 0 9 0a4.5 4.5 0 1 0 -9 0M207.2 253.9a4.5 4.5 0 1 0 9 0a4.5 4.5 0 1 0 -9 0M210.6 253.6a4.5 4.5 0 1 0 9 0a4.5 4.5 0 1 0 -9 0M214 253.3a4.5 4.5 0 1 0 9 0a4.5 4.5 0 1 0 -9 0M217.4 253a4.5 4.5 0 1 0 9 0a4.5 4.5 0 1 0 -9 0M220.8 252.7a4.5 4.5 0 1 0 9 0a4.5 4.5 0 1 0 -9 0M224.2 252.5a4.5 4.5 0 1 0 9 0a4.5 4.5 0 1 0 -9 0M227.6 252.2a4.5 4.5 0 1 0 9 0a4.5 4.5 0 1 0 -9 0M230.9 252a4.5 4.5 0 1 0 9 0a4.5 4.5 0 1 0 -9 0M234.2 251.8a4.5 4.5 0 1 0 9 0a4.5 4.5 0 1 0 -9 0M237.5 251.6a4.5 4.5 0 1 0 9 0a4.5 4.5 0 1 0 -9 0M240.7 251.3a4.5 4.5 0 1 0 9 0a4.5 4.5 0 1 0 -9 0M243.9 251.1a4.5 4.5 0 1 0 9 0a4.5 4.5 0 1 0 -9 0M246.9 250.9a4.5 4.5 0 1 0 9 0a4.5 4.5 0 1 0 -9 0M249.7 250.7a4.5 4.5 0 1 0 9 0a4.5 4.5 0 1 0 -9 0M252.5 250.4a4.5 4.5 0 1 0 9 0a4.5 4.5 0 1 0 -9 0M255.3 250.1a4.5 4.5 0 1 0 9 0a4.5 4.5 0 1 0 -9 0M258 249.9a4.5 4.5 0 1 0 9 0a4.5 4.5 0 1 0 -9 0M260.7 249.6a4.5 4.5 0 1 0 9 0a4.5 4.5 0 1 0 -9 0M263.5 249.3a4.5 4.5 0 1 0 9 0a4.5 4.5 0 1 0 -9 0M266.1 249.1a4.5 4.5 0 1 0 9 0a4.5 4.5 0 1 0 -9 0M268.8 248.9a4.5 4.5 0 1 0 9 0a4.5 4.5 0 1 0 -9 0M271.5 248.7a4.5 4.5 0 1 0 9 0a4.5 4.5 0 1 0 -9 0M274.1 248.5a4.5 4.5 0 1 0 9 0a4.5 4.5 0 1 0 -9 0M276.7 248.4a4.5 4.5 0 1 0 9 0a4.5 4.5 0 1 0 -9 0M279.2 248.4a4.5 4.5 0 1 0 9 0a4.5 4.5 0 1 0 -9 0M281.8 248.4a4.5 4.5 0 1 0 9 0a4.5 4.5 0 1 0 -9 0M284.3 248.4a4.5 4.5 0 1 0 9 0a4.5 4.5 0 1 0 -9 0M286.6 248.6a4.5 4.5 0 1 0 9 0a4.5 4.5 0 1 0 -9 0M288.7 248.7a4.5 4.5 0 1 0 9 0a4.5 4.5 0 1 0 -9 0M290.8 248.9a4.5 4.5 0 1 0 9 0a4.5 4.5 0 1 0 -9 0M292.8 249.1a4.5 4.5 0 1 0 9 0a4.5 4.5 0 1 0 -9 0M294.9 249.3a4.5 4.5 0 1 0 9 0a4.5 4.5 0 1 0 -9 0M296.9 249.6a4.5 4.5 0 1 0 9 0a4.5 4.5 0 1 0 -9 0M299.9 250.1a4.5 4.5 0 1 0 9 0a4.5 4.5 0 1 0 -9 0M302.8 250.6a4.5 4.5 0 1 0 9 0a4.5 4.5 0 1 0 -9 0M305.7 251.2a4.5 4.5 0 1 0 9 0a4.5 4.5 0 1 0 -9 0M308.7 251.9a4.5 4.5 0 1 0 9 0a4.5 4.5 0 1 0 -9 0M311.6 252.7a4.5 4.5 0 1 0 9 0a4.5 4.5 0 1 0 -9 0M314.5 253.5a4.5 4.5 0 1 0 9 0a4.5 4.5 0 1 0 -9 0M316.5 254.1a4.5 4.5 0 1 0 9 0a4.5 4.5 0 1 0 -9 0M318.6 254.8a4.5 4.5 0 1 0 9 0a4.5 4.5 0 1 0 -9 0M320.6 255.6a4.5 4.5 0 1 0 9 0a4.5 4.5 0 1 0 -9 0M322.7 256.4a4.5 4.5 0 1 0 9 0a4.5 4.5 0 1 0 -9 0M324.8 257.2a4.5 4.5 0 1 0 9 0a4.5 4.5 0 1 0 -9 0M326.9 258.1a4.5 4.5 0 1 0 9 0a4.5 4.5 0 1 0 -9 0M328.9 259a4.5 4.5 0 1 0 9 0a4.5 4.5 0 1 0 -9 0M331 260a4.5 4.5 0 1 0 9 0a4.5 4.5 0 1 0 -9 0M333 260.9a4.5 4.5 0 1 0 9 0a4.5 4.5 0 1 0 -9 0M335 261.9a4.5 4.5 0 1 0 9 0a4.5 4.5 0 1 0 -9 0M337 262.9a4.5 4.5 0 1 0 9 0a4.5 4.5 0 1 0 -9 0M340 264.3a4.5 4.5 0 1 0 9 0a4.5 4.5 0 1 0 -9 0M342.8 265.8a4.5 4.5 0 1 0 9 0a4.5 4.5 0 1 0 -9 0M345.5 267.2a4.5 4.5 0 1 0 9 0a4.5 4.5 0 1 0 -9 0M347.7 268.4a4.5 4.5 0 1 0 9 0a4.5 4.5 0 1 0 -9 0M349.8 269.5a4.5 4.5 0 1 0 9 0a4.5 4.5 0 1 0 -9 0M352.4 271.1a4.5 4.5 0 1 0 9 0a4.5 4.5 0 1 0 -9 0M355 272.6a4.5 4.5 0 1 0 9 0a4.5 4.5 0 1 0 -9 0M357.5 274.2a4.5 4.5 0 1 0 9 0a4.5 4.5 0 1 0 -9 0M360.1 275.8a4.5 4.5 0 1 0 9 0a4.5 4.5 0 1 0 -9 0M362.7 277.4a4.5 4.5 0 1 0 9 0a4.5 4.5 0 1 0 -9 0M365.5 279a4.5 4.5 0 1 0 9 0a4.5 4.5 0 1 0 -9 0M367.9 280.4a4.5 4.5 0 1 0 9 0a4.5 4.5 0 1 0 -9 0M370.4 281.9a4.5 4.5 0 1 0 9 0a4.5 4.5 0 1 0 -9 0M373 283.5a4.5 4.5 0 1 0 9 0a4.5 4.5 0 1 0 -9 0M375.5 285a4.5 4.5 0 1 0 9 0a4.5 4.5 0 1 0 -9 0M378.1 286.6a4.5 4.5 0 1 0 9 0a4.5 4.5 0 1 0 -9 0M380.8 288.1a4.5 4.5 0 1 0 9 0a4.5 4.5 0 1 0 -9 0M383.4 289.5a4.5 4.5 0 1 0 9 0a4.5 4.5 0 1 0 -9 0M386 290.8a4.5 4.5 0 1 0 9 0a4.5 4.5 0 1 0 -9 0M388.7 292a4.5 4.5 0 1 0 9 0a4.5 4.5 0 1 0 -9 0M391.3 293a4.5 4.5 0 1 0 9 0a4.5 4.5 0 1 0 -9 0M393.7 293.7a4.5 4.5 0 1 0 9 0a4.5 4.5 0 1 0 -9 0M396.1 294.3a4.5 4.5 0 1 0 9 0a4.5 4.5 0 1 0 -9 0M398.5 294.8a4.5 4.5 0 1 0 9 0a4.5 4.5 0 1 0 -9 0M400.9 295.2a4.5 4.5 0 1 0 9 0a4.5 4.5 0 1 0 -9 0M403.3 295.5a4.5 4.5 0 1 0 9 0a4.5 4.5 0 1 0 -9 0M405.8 295.7a4.5 4.5 0 1 0 9 0a4.5 4.5 0 1 0 -9 0M408.2 296a4.5 4.5 0 1 0 9 0a4.5 4.5 0 1 0 -9 0M410.6 296.3a4.5 4.5 0 1 0 9 0a4.5 4.5 0 1 0 -9 0M413.1 296.6a4.5 4.5 0 1 0 9 0a4.5 4.5 0 1 0 -9 0M415.5 297a4.5 4.5 0 1 0 9 0a4.5 4.5 0 1 0 -9 0M418 297.5a4.5 4.5 0 1 0 9 0a4.5 4.5 0 1 0 -9 0M420.5 297.9a4.5 4.5 0 1 0 9 0a4.5 4.5 0 1 0 -9 0M423 298.4a4.5 4.5 0 1 0 9 0a4.5 4.5 0 1 0 -9 0M425.5 299a4.5 4.5 0 1 0 9 0a4.5 4.5 0 1 0 -9 0M428.8 299.6a4.5 4.5 0 1 0 9 0a4.5 4.5 0 1 0 -9 0M432.2 300.3a4.5 4.5 0 1 0 9 0a4.5 4.5 0 1 0 -9 0M435.5 301a4.5 4.5 0 1 0 9 0a4.5 4.5 0 1 0 -9 0M438.8 301.7a4.5 4.5 0 1 0 9 0a4.5 4.5 0 1 0 -9 0M442.2 302.3a4.5 4.5 0 1 0 9 0a4.5 4.5 0 1 0 -9 0M445.5 303.1a4.5 4.5 0 1 0 9 0a4.5 4.5 0 1 0 -9 0M448.9 303.8a4.5 4.5 0 1 0 9 0a4.5 4.5 0 1 0 -9 0M452.3 304.6a4.5 4.5 0 1 0 9 0a4.5 4.5 0 1 0 -9 0M455.7 305.3a4.5 4.5 0 1 0 9 0a4.5 4.5 0 1 0 -9 0M459 305.9a4.5 4.5 0 1 0 9 0a4.5 4.5 0 1 0 -9 0M462.3 306.3a4.5 4.5 0 1 0 9 0a4.5 4.5 0 1 0 -9 0M465.5 306.5a4.5 4.5 0 1 0 9 0a4.5 4.5 0 1 0 -9 0M468.3 306.5a4.5 4.5 0 1 0 9 0a4.5 4.5 0 1 0 -9 0M471.6 306.3a4.5 4.5 0 1 0 9 0a4.5 4.5 0 1 0 -9 0M474.9 306a4.5 4.5 0 1 0 9 0a4.5 4.5 0 1 0 -9 0M478.1 305.5a4.5 4.5 0 1 0 9 0a4.5 4.5 0 1 0 -9 0M481.4 304.9a4.5 4.5 0 1 0 9 0a4.5 4.5 0 1 0 -9 0M484.8 304.2a4.5 4.5 0 1 0 9 0a4.5 4.5 0 1 0 -9 0M487.9 303.5a4.5 4.5 0 1 0 9 0a4.5 4.5 0 1 0 -9 0M491.4 302.7a4.5 4.5 0 1 0 9 0a4.5 4.5 0 1 0 -9 0M494.9 301.8a4.5 4.5 0 1 0 9 0a4.5 4.5 0 1 0 -9 0M498.4 300.8a4.5 4.5 0 1 0 9 0a4.5 4.5 0 1 0 -9 0M501.9 299.8a4.5 4.5 0 1 0 9 0a4.5 4.5 0 1 0 -9 0M505.2 298.5a4.5 4.5 0 1 0 9 0a4.5 4.5 0 1 0 -9 0M508.3 297.1a4.5 4.5 0 1 0 9 0a4.5 4.5 0 1 0 -9 0M511.7 295.3a4.5 4.5 0 1 0 9 0a4.5 4.5 0 1 0 -9 0M514.7 293.1a4.5 4.5 0 1 0 9 0a4.5 4.5 0 1 0 -9 0M518.1 290.2a4.5 4.5 0 1 0 9 0a4.5 4.5 0 1 0 -9 0M521.2 287.2a4.5 4.5 0 1 0 9 0a4.5 4.5 0 1 0 -9 0M524.2 283.9a4.5 4.5 0 1 0 9 0a4.5 4.5 0 1 0 -9 0M527.2 280.1a4.5 4.5 0 1 0 9 0a4.5 4.5 0 1 0 -9 0" fill="none" stroke="#f000f0" stroke-width="1.6"/>
<path d="M62.5 378h.01M62.6 368h.01M63 352h.01M63.4 338h.01M63.8 320h.01M64 305h.01M64.2 287.3h.01M64.5 265h.01M64.7 246h.01M64.8 240h.01M64.9 231h.01M65 225h.01M65.3 200h.01M65.6 175h.01M66 150h.01M66.3 130h.01M66.6 116h.01M66.9 106h.01M67.5 103h.01M67.9 108.9h.01M68.3 115.3h.01M68.6 121.8h.01M68.8 128.5h.01M69.1 135h.01M69.4 141.5h.01M69.7 148.2h.01M69.9 154.7h.01M70.3 160.9h.01M70.7 167h.01M71.1 172.8h.01M71.6 177.5h.01M72.3 173.5h.01M72.9 168.7h.01M73.5 164.8h.01M74.3 161h.01M75.1 157.9h.01M75.9 155.2h.01M76.7 152.9h.01M77.5 151h.01M78.4 149.4h.01M79.2 148.2h.01M80.1 147h.01M81 146h.01M81.9 145h.01M82.7 144h.01M83.6 143h.01M84.4 142.1h.01M85.3 141.4h.01M86.1 141h.01M87 140.8h.01M87.9 140.8h.01M88.7 140.8h.01M89.5 141h.01M90.4 141.3h.01M91.2 141.8h.01M92 142.7h.01M92.9 144.2h.01M93.6 146.9h.01M94.3 150.9h.01M95 154.8h.01M95.7 157.9h.01M96.4 161.3h.01M97.1 165.5h.01M97.8 169.1h.01M98.6 171.9h.01M99.3 175h.01M100 179.2h.01M100.7 182.3h.01M101.5 184.4h.01M102.3 185.4h.01M103.2 185.5h.01M104.1 185h.01M105.4 184.1h.01M106.7 183.2h.01M108 182.3h.01M109.3 181.3h.01M110.5 180.4h.01M111.8 179.7h.01M113.1 179.2h.01M114.6 178.8h.01M115.8 178.6h.01M117.1 178.4h.01M118.5 178.2h.01M120 178h.01M121.3 177.8h.01M122.7 177.6h.01M124.2 177.3h.01M125.8 177.1h.01M127.4 176.9h.01M129 176.7h.01M130.5 176.5h.01M132 176.4h.01M133.3 176.3h.01M134.7 176.3h.01M136 176.5h.01M137.3 176.7h.01M138.7 177.1h.01M140 177.4h.01M141.3 177.6h.01M142.7 177.9h.01M144.3 178.3h.01M146.1 178.6h.01M147.9 179h.01M149.9 179.4h.01M151.9 179.8h.01M154.1 180.2h.01M156.3 180.6h.01M158.5 181h.01M160.8 181.4h.01M163.1 181.7h.01M165.4 182h.01M167.7 182.3h.01M170 182.6h.01M173 182.9h.01M176.1 183.1h.01M179.4 183.4h.01M182.7 183.6h.01M186.2 183.7h.01M189.7 183.9h.01M193.2 184h.01M196.8 184.1h.01M200.3 184.2h.01M203.8 184.3h.01M207.2 184.4h.01M210.6 184.4h.01M213.9 184.4h.01M217 184.5h.01M220 184.5h.01M222.2 184.5h.01M224.3 184.5h.01M226.4 184.6h.01M228.4 184.6h.01M231.4 184.6h.01M234.3 184.6h.01M237.1 184.5h.01M240 184.4h.01M242.9 184.3h.01M245.9 184.1h.01M247.9 184h.01M250 183.8h.01M252.5 183.6h.01M255.1 183.3h.01M257.7 182.9h.01M260.4 182.6h.01M263.1 182.2h.01M265.9 181.7h.01M268.6 181.3h.01M271.4 180.8h.01M274.2 180.3h.01M276.9 179.9h.01M279.6 179.4h.01M282.3 178.9h.01M284.9 178.4h.01M287.5 178h.01M290 177.5h.01M292.1 177.1h.01M294.2 176.7h.01M296.3 176.4h.01M298.3 176h.01M300.3 175.6h.01M303.3 175h.01M306.3 174.5h.01M309.2 173.9h.01M312.1 173.3h.01M315.1 172.6h.01M318 172h.01M321 171.3h.01M323 170.8h.01M325.1 170.3h.01M327.1 169.8h.01M329.2 169.2h.01M331.3 168.7h.01M333.3 168.1h.01M335.4 167.6h.01M337.4 167h.01M339.5 166.5h.01M342.4 165.6h.01M345.4 164.8h.01M348.2 164h.01M350.7 163.3h.01M352.9 162.7h.01M355.1 162.1h.01M357.2 161.4h.01M359.3 160.8h.01M362 160h.01M364.7 159.2h.01M367.1 158.5h.01M369.4 157.7h.01M371.9 156.8h.01M374.4 156h.01M376.7 155.1h.01M379.1 154h.01M381.4 152.6h.01M383.7 151h.01M386 148.5h.01M388.3 144.5h.01M390.5 138.7h.01M392.5 128.8h.01M394.2 116.3h.01M396.1 105.2h.01M398.2 97.6h.01M400.6 93.6h.01M403 92.5h.01M405.5 91.9h.01M408 91.3h.01M410.4 90.9h.01M412.8 92h.01M415.3 94.4h.01M417.6 100.4h.01M419.5 113.4h.01M420.9 130.5h.01M422.3 146.9h.01M424.1 162.7h.01M426 176.3h.01M428.1 187.5h.01M430.5 193h.01M433 197.8h.01M435.5 202.4h.01M438.1 206h.01M440.7 209.3h.01M443.3 212h.01M445.9 214.5h.01M448.5 217.3h.01M451.2 219.7h.01M453.9 221.8h.01M456.6 223.4h.01M459.3 225h.01M462.4 226.9h.01M465.4 228.8h.01M468.2 230.5h.01M471.3 232.5h.01M474.3 234.3h.01M477.3 236.2h.01M480.2 238.1h.01M483.2 240h.01M486.5 241.8h.01M489.5 243.4h.01M492.6 244.9h.01M495.7 246.4h.01M498.6 247.8h.01M501.8 249.3h.01M504.8 250.7h.01M508 252.2h.01M511 253.4h.01M514 254.5h.01M517 255.6h.01M520 256.5h.01M523.2 257.2h.01M526.5 257.8h.01M529.8 258.9h.01M532.8 262.7h.01M62.5 378h.01M63 375.5h.01M63.5 372.8h.01M63.8 369.8h.01M64.1 366.8h.01M64.3 363.6h.01M64.6 360.4h.01M64.8 356.9h.01M65 353.4h.01M65.3 349.9h.01M65.5 346.6h.01M65.8 343.5h.01M66.2 340.5h.01M66.5 337.6h.01M66.9 334.8h.01M67.4 332h.01M67.9 329.3h.01M68.3 326.4h.01M68.8 323.7h.01M69.4 321h.01M70 318.4h.01M70.6 315.9h.01M71.2 313.8h.01M71.9 311.7h.01M72.6 309.8h.01M73.4 307.9h.01M74.1 306.4h.01M74.8 304.9h.01M75.6 303.4h.01M76.4 302h.01M77.3 300.7h.01M78 299.5h.01M78.8 298.4h.01M79.6 297.4h.01M80.4 296.2h.01M81.2 295.3h.01M82 294.3h.01M82.9 293.4h.01M83.8 292.6h.01M84.6 291.8h.01M85.4 291.1h.01M86.2 290.4h.01M87.1 289.7h.01M88 289.1h.01M88.8 288.4h.01M89.7 287.8h.01M90.6 287.3h.01M91.4 286.7h.01M92.3 286.2h.01M93.2 285.6h.01M94.2 285.1h.01M95.1 284.5h.01M96.1 283.9h.01M97.1 283.3h.01M97.9 282.9h.01M98.7 282.4h.01M99.5 282h.01M100.4 281.6h.01M101.2 281.1h.01M102.1 280.7h.01M103 280.3h.01M103.9 279.9h.01M104.9 279.6h.01M106.1 279.1h.01M107.4 278.7h.01M108.8 278.3h.01M110.2 277.9h.01M111.6 277.5h.01M113.2 277.2h.01M114.4 276.9h.01M115.7 276.6h.01M117.1 276.2h.01M118.8 275.8h.01M120.5 275.4h.01M122.3 274.9h.01M124.2 274.4h.01M126.2 273.9h.01M128.3 273.3h.01M130.4 272.8h.01M132.5 272.2h.01M134.8 271.7h.01M137.1 271.1h.01M139.4 270.5h.01M141.7 269.9h.01M144.1 269.4h.01M146.4 268.8h.01M148.8 268.3h.01M151.5 267.7h.01M153 267.3h.01M154.5 267h.01M156.1 266.6h.01M157.7 266.3h.01M159.3 265.9h.01M160.9 265.5h.01M162.5 265.2h.01M164.2 264.8h.01M165.8 264.4h.01M167.5 264.1h.01M169.2 263.7h.01M170.9 263.4h.01M172.6 263h.01M174.3 262.6h.01M176 262.3h.01M177.7 261.9h.01M179.4 261.6h.01M182.9 260.9h.01M186.3 260.2h.01M189.8 259.6h.01M193.2 259h.01M196.6 258.5h.01M200 258h.01M203.3 257.6h.01M206.7 257.2h.01M210.1 256.8h.01M213.4 256.4h.01M216.8 256.1h.01M220.2 255.9h.01M223.6 255.6h.01M227 255.4h.01M230.4 255.1h.01M233.7 254.9h.01M237.1 254.7h.01M240.3 254.5h.01M243.6 254.4h.01M246.8 254.2h.01M250 254h.01M252.8 253.8h.01M255.6 253.6h.01M258.4 253.4h.01M261.1 253.2h.01M263.9 253h.01M266.6 252.8h.01M269.3 252.6h.01M272 252.5h.01M274.7 252.3h.01M277.3 252.2h.01M279.9 252.2h.01M282.5 252.2h.01M285 252.2h.01M287.5 252.3h.01M290 252.5h.01M292.1 252.7h.01M294.2 252.9h.01M296.3 253.2h.01M298.4 253.5h.01M300.4 253.8h.01M302.4 254.2h.01M305.4 254.8h.01M308.3 255.5h.01M311.2 256.2h.01M314.1 257.1h.01M317.1 257.9h.01M320 258.9h.01M322 259.6h.01M324.1 260.4h.01M326.2 261.2h.01M328.3 262.1h.01M330.3 263.1h.01M332.4 264h.01M334.5 265h.01M336.5 266h.01M338.5 267h.01M340.5 268.1h.01M343.5 269.6h.01M346.3 271.1h.01M349.1 272.5h.01M351.5 273.8h.01M353.7 274.9h.01M355.8 276.1h.01M357.9 277.2h.01M360 278.4h.01M362.7 279.9h.01M365.3 281.4h.01M367.7 282.9h.01M370 284.3h.01M372.4 285.9h.01M374.6 287.4h.01M377 289.1h.01M379.4 290.8h.01M381.6 292.5h.01M384 294.3h.01M386.3 296.1h.01M388.8 297.9h.01M391.1 299.7h.01M393.4 301.6h.01M395.7 301.5h.01M398 299.2h.01M400.3 298.2h.01M403 297.5h.01M405.4 297.2h.01M408.3 296.9h.01M410.8 296.8h.01M413.4 296.7h.01M416 296.6h.01M418.7 296.5h.01M421.5 296.5h.01M424.7 296.5h.01M428 296.6h.01M430.5 296.7h.01M433.1 296.8h.01M435.7 296.9h.01M438.2 297h.01M440.8 297.2h.01M444.2 297.4h.01M447.5 297.5h.01M450.9 297.8h.01M454.3 298.1h.01M457.7 298.3h.01M461 298.6h.01M464.4 298.8h.01M467.6 299h.01M470.7 299h.01M473.5 299h.01M476.3 299h.01M479.7 298.9h.01M483 298.7h.01M486.2 298.5h.01M489.4 298.1h.01M492.7 297.5h.01M495.8 296.9h.01M498.9 296.1h.01M501.8 295.2h.01M505 294h.01M508.1 292.3h.01M511.3 290.1h.01M514.3 288h.01M517.5 286h.01M520.8 283.9h.01M524.1 281.9h.01M527.2 280h.01M530.3 278h.01" fill="none" stroke="#000" stroke-width="2.7" stroke-linecap="round"/>
</g>
<rect x="411.7" y="315.5" width="116.5" height="99.5" fill="#fff" stroke="none"/>
<path d="M411.7 415V315.5H528.2" fill="none" stroke="#6a6a6a" stroke-width="1.4"/>
<path d="M528.2 315.5V415H411.7" fill="none" stroke="#c8c8c8" stroke-width="1.2"/>
<path d="M427.8 325.3h11M433.3 320.3v10" stroke="#e02020" stroke-width="1.6"/>
<circle cx="433.3" cy="341.2" r="4.8" fill="none" stroke="#22bb44" stroke-width="1.6"/>
<rect x="429.3" y="353.1" width="8" height="8" fill="none" stroke="#e8e060" stroke-width="1.6"/>
<path d="M427.8 373.0h11M433.3 368.0v10" stroke="#10d8e0" stroke-width="1.7"/>
<circle cx="433.3" cy="388.9" r="4.9" fill="none" stroke="#c838a8" stroke-width="1.6"/>
<circle cx="433.3" cy="404.8" r="1.5" fill="#000"/>
<text x="452.4" y="330.0" font-size="12.7" fill="#000">Baseline</text>
<text x="452.4" y="345.9" font-size="12.7" fill="#000">VCCTEF123</text>
<text x="452.4" y="361.8" font-size="12.7" fill="#000">VCCTEF222</text>
<text x="452.4" y="377.7" font-size="12.7" fill="#000">VCCTEF321</text>
<text x="452.4" y="393.6" font-size="12.7" fill="#000">VCCTEF33</text>
<text x="452.4" y="409.5" font-size="12.7" fill="#000">VCCTEF6</text>
</g>
</svg>
</body></html>
